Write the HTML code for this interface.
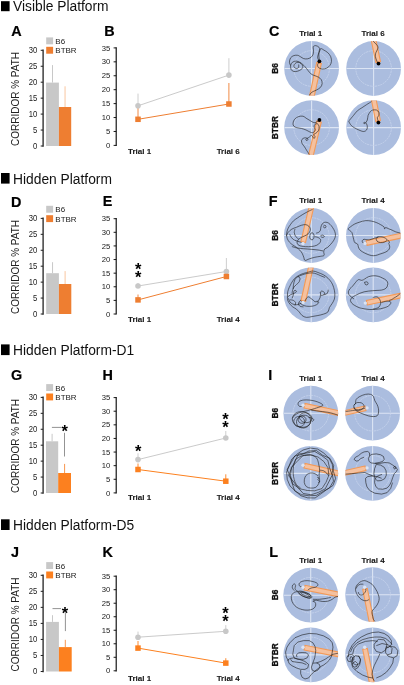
<!DOCTYPE html>
<html><head><meta charset="utf-8"><title>Figure</title>
<style>
html,body{margin:0;padding:0;background:#fff;}
svg{display:block;filter:blur(0.3px);}
svg text{font-family:'Liberation Sans', Arial, Helvetica, sans-serif;}
</style></head>
<body>
<svg width="404" height="685" viewBox="0 0 404 685">
<rect x="1" y="1.2" width="8.6" height="10" fill="#000"/>
<text x="13.0" y="11.2" font-size="13.8" fill="#111">Visible Platform</text>
<rect x="1" y="173" width="8.6" height="10.6" fill="#000"/>
<text x="13.0" y="183.6" font-size="13.8" fill="#111">Hidden Platform</text>
<rect x="1" y="344.4" width="8.6" height="10.7" fill="#000"/>
<text x="13.0" y="355.1" font-size="13.8" fill="#111">Hidden Platform-D1</text>
<rect x="1" y="519.3" width="8.6" height="10.7" fill="#000"/>
<text x="13.0" y="530" font-size="13.8" fill="#111">Hidden Platform-D5</text>
<text x="11.3" y="36.2" font-size="14.4" font-weight="bold" fill="#000" stroke="#000" stroke-width="0.2">A</text>
<text x="104.2" y="35.9" font-size="14.4" font-weight="bold" fill="#000" stroke="#000" stroke-width="0.2">B</text>
<text x="269" y="35.8" font-size="14.4" font-weight="bold" fill="#000" stroke="#000" stroke-width="0.2">C</text>
<text x="11" y="206.5" font-size="14.4" font-weight="bold" fill="#000" stroke="#000" stroke-width="0.2">D</text>
<text x="102.8" y="206.4" font-size="14.4" font-weight="bold" fill="#000" stroke="#000" stroke-width="0.2">E</text>
<text x="268.8" y="206.4" font-size="14.4" font-weight="bold" fill="#000" stroke="#000" stroke-width="0.2">F</text>
<text x="11" y="379.8" font-size="14.4" font-weight="bold" fill="#000" stroke="#000" stroke-width="0.2">G</text>
<text x="102.6" y="380.2" font-size="14.4" font-weight="bold" fill="#000" stroke="#000" stroke-width="0.2">H</text>
<text x="268.2" y="380.4" font-size="14.4" font-weight="bold" fill="#000" stroke="#000" stroke-width="0.2">I</text>
<text x="11" y="557" font-size="14.4" font-weight="bold" fill="#000" stroke="#000" stroke-width="0.2">J</text>
<text x="102.4" y="557.2" font-size="14.4" font-weight="bold" fill="#000" stroke="#000" stroke-width="0.2">K</text>
<text x="269.3" y="557.4" font-size="14.4" font-weight="bold" fill="#000" stroke="#000" stroke-width="0.2">L</text>
<line x1="43.1" y1="49.5" x2="43.1" y2="146.8" stroke="#222" stroke-width="1.3"/>
<line x1="40.7" y1="146" x2="43.1" y2="146" stroke="#222" stroke-width="1"/>
<text transform="translate(37.3,148.9) scale(0.95,1.1)" font-size="8.1" text-anchor="end" fill="#1a1a1a">0</text>
<line x1="40.7" y1="130.05" x2="43.1" y2="130.05" stroke="#222" stroke-width="1"/>
<text transform="translate(37.3,132.95) scale(0.95,1.1)" font-size="8.1" text-anchor="end" fill="#1a1a1a">5</text>
<line x1="40.7" y1="114.1" x2="43.1" y2="114.1" stroke="#222" stroke-width="1"/>
<text transform="translate(37.3,117) scale(0.95,1.1)" font-size="8.1" text-anchor="end" fill="#1a1a1a">10</text>
<line x1="40.7" y1="98.15" x2="43.1" y2="98.15" stroke="#222" stroke-width="1"/>
<text transform="translate(37.3,101.05) scale(0.95,1.1)" font-size="8.1" text-anchor="end" fill="#1a1a1a">15</text>
<line x1="40.7" y1="82.2" x2="43.1" y2="82.2" stroke="#222" stroke-width="1"/>
<text transform="translate(37.3,85.1) scale(0.95,1.1)" font-size="8.1" text-anchor="end" fill="#1a1a1a">20</text>
<line x1="40.7" y1="66.25" x2="43.1" y2="66.25" stroke="#222" stroke-width="1"/>
<text transform="translate(37.3,69.15) scale(0.95,1.1)" font-size="8.1" text-anchor="end" fill="#1a1a1a">25</text>
<line x1="40.7" y1="50.3" x2="43.1" y2="50.3" stroke="#222" stroke-width="1"/>
<text transform="translate(37.3,53.2) scale(0.95,1.1)" font-size="8.1" text-anchor="end" fill="#1a1a1a">30</text>
<rect x="46.1" y="82.6" width="12.8" height="63.4" fill="#c8c8c8"/>
<rect x="58.9" y="107" width="12.3" height="39" fill="#ee7e31"/>
<line x1="52.5" y1="65.1" x2="52.5" y2="82.6" stroke="#c8c8c8" stroke-width="1"/>
<line x1="65.05" y1="86.3" x2="65.05" y2="107" stroke="#f9c6a0" stroke-width="1"/>
<rect x="46.2" y="37.4" width="6.9" height="6.9" fill="#c8c8c8"/>
<rect x="46.2" y="46.8" width="6.9" height="6.9" fill="#ee7e31"/>
<text x="55.3" y="44" font-size="8" fill="#222">B6</text>
<text x="55.3" y="53.3" font-size="8" fill="#222">BTBR</text>
<text transform="translate(19.4,146) rotate(-90)" x="0" y="0" font-size="10.2" fill="#222" textLength="94" lengthAdjust="spacingAndGlyphs">CORRIDOR % PATH</text>
<line x1="43.1" y1="217.6" x2="43.1" y2="314.8" stroke="#222" stroke-width="1.3"/>
<line x1="40.7" y1="314" x2="43.1" y2="314" stroke="#222" stroke-width="1"/>
<text transform="translate(37.3,316.9) scale(0.95,1.1)" font-size="8.1" text-anchor="end" fill="#1a1a1a">0</text>
<line x1="40.7" y1="298.07" x2="43.1" y2="298.07" stroke="#222" stroke-width="1"/>
<text transform="translate(37.3,300.97) scale(0.95,1.1)" font-size="8.1" text-anchor="end" fill="#1a1a1a">5</text>
<line x1="40.7" y1="282.13" x2="43.1" y2="282.13" stroke="#222" stroke-width="1"/>
<text transform="translate(37.3,285.03) scale(0.95,1.1)" font-size="8.1" text-anchor="end" fill="#1a1a1a">10</text>
<line x1="40.7" y1="266.2" x2="43.1" y2="266.2" stroke="#222" stroke-width="1"/>
<text transform="translate(37.3,269.1) scale(0.95,1.1)" font-size="8.1" text-anchor="end" fill="#1a1a1a">15</text>
<line x1="40.7" y1="250.27" x2="43.1" y2="250.27" stroke="#222" stroke-width="1"/>
<text transform="translate(37.3,253.17) scale(0.95,1.1)" font-size="8.1" text-anchor="end" fill="#1a1a1a">20</text>
<line x1="40.7" y1="234.33" x2="43.1" y2="234.33" stroke="#222" stroke-width="1"/>
<text transform="translate(37.3,237.23) scale(0.95,1.1)" font-size="8.1" text-anchor="end" fill="#1a1a1a">25</text>
<line x1="40.7" y1="218.4" x2="43.1" y2="218.4" stroke="#222" stroke-width="1"/>
<text transform="translate(37.3,221.3) scale(0.95,1.1)" font-size="8.1" text-anchor="end" fill="#1a1a1a">30</text>
<rect x="46.2" y="273.2" width="12.7" height="40.8" fill="#c8c8c8"/>
<rect x="58.9" y="284" width="12.4" height="30" fill="#ee7e31"/>
<line x1="52.55" y1="262.2" x2="52.55" y2="273.2" stroke="#c8c8c8" stroke-width="1"/>
<line x1="65.1" y1="271.1" x2="65.1" y2="284" stroke="#f9c6a0" stroke-width="1"/>
<rect x="46.2" y="205.8" width="6.9" height="6.9" fill="#c8c8c8"/>
<rect x="46.2" y="215.2" width="6.9" height="6.9" fill="#ee7e31"/>
<text x="55.3" y="212.4" font-size="8" fill="#222">B6</text>
<text x="55.3" y="221.7" font-size="8" fill="#222">BTBR</text>
<text transform="translate(19.4,314) rotate(-90)" x="0" y="0" font-size="10.2" fill="#222" textLength="94" lengthAdjust="spacingAndGlyphs">CORRIDOR % PATH</text>
<line x1="43.1" y1="396.6" x2="43.1" y2="493.8" stroke="#222" stroke-width="1.3"/>
<line x1="40.7" y1="493" x2="43.1" y2="493" stroke="#222" stroke-width="1"/>
<text transform="translate(37.3,495.9) scale(0.95,1.1)" font-size="8.1" text-anchor="end" fill="#1a1a1a">0</text>
<line x1="40.7" y1="477.07" x2="43.1" y2="477.07" stroke="#222" stroke-width="1"/>
<text transform="translate(37.3,479.97) scale(0.95,1.1)" font-size="8.1" text-anchor="end" fill="#1a1a1a">5</text>
<line x1="40.7" y1="461.13" x2="43.1" y2="461.13" stroke="#222" stroke-width="1"/>
<text transform="translate(37.3,464.03) scale(0.95,1.1)" font-size="8.1" text-anchor="end" fill="#1a1a1a">10</text>
<line x1="40.7" y1="445.2" x2="43.1" y2="445.2" stroke="#222" stroke-width="1"/>
<text transform="translate(37.3,448.1) scale(0.95,1.1)" font-size="8.1" text-anchor="end" fill="#1a1a1a">15</text>
<line x1="40.7" y1="429.27" x2="43.1" y2="429.27" stroke="#222" stroke-width="1"/>
<text transform="translate(37.3,432.17) scale(0.95,1.1)" font-size="8.1" text-anchor="end" fill="#1a1a1a">20</text>
<line x1="40.7" y1="413.33" x2="43.1" y2="413.33" stroke="#222" stroke-width="1"/>
<text transform="translate(37.3,416.23) scale(0.95,1.1)" font-size="8.1" text-anchor="end" fill="#1a1a1a">25</text>
<line x1="40.7" y1="397.4" x2="43.1" y2="397.4" stroke="#222" stroke-width="1"/>
<text transform="translate(37.3,400.3) scale(0.95,1.1)" font-size="8.1" text-anchor="end" fill="#1a1a1a">30</text>
<rect x="46" y="441.3" width="12.2" height="51.7" fill="#c8c8c8"/>
<rect x="58.2" y="473" width="12.8" height="20" fill="#fc801f"/>
<line x1="52.1" y1="433.8" x2="52.1" y2="441.3" stroke="#c8c8c8" stroke-width="1"/>
<line x1="64.6" y1="463.9" x2="64.6" y2="473" stroke="#f8974f" stroke-width="1"/>
<rect x="46.2" y="384.1" width="6.9" height="6.9" fill="#c8c8c8"/>
<rect x="46.2" y="393.5" width="6.9" height="6.9" fill="#fc801f"/>
<text x="55.3" y="390.7" font-size="8" fill="#222">B6</text>
<text x="55.3" y="400" font-size="8" fill="#222">BTBR</text>
<text transform="translate(19.4,493) rotate(-90)" x="0" y="0" font-size="10.2" fill="#222" textLength="94" lengthAdjust="spacingAndGlyphs">CORRIDOR % PATH</text>
<line x1="51.9" y1="427.4" x2="61.3" y2="427.4" stroke="#777" stroke-width="0.8"/>
<text x="64.7" y="437.15" font-size="16.5" font-weight="bold" text-anchor="middle" fill="#000">*</text>
<line x1="64.5" y1="432.8" x2="64.5" y2="456.5" stroke="#777" stroke-width="0.8"/>
<line x1="43.1" y1="574.5" x2="43.1" y2="672.3" stroke="#222" stroke-width="1.3"/>
<line x1="40.7" y1="671.5" x2="43.1" y2="671.5" stroke="#222" stroke-width="1"/>
<text transform="translate(37.3,674.4) scale(0.95,1.1)" font-size="8.1" text-anchor="end" fill="#1a1a1a">0</text>
<line x1="40.7" y1="655.47" x2="43.1" y2="655.47" stroke="#222" stroke-width="1"/>
<text transform="translate(37.3,658.37) scale(0.95,1.1)" font-size="8.1" text-anchor="end" fill="#1a1a1a">5</text>
<line x1="40.7" y1="639.43" x2="43.1" y2="639.43" stroke="#222" stroke-width="1"/>
<text transform="translate(37.3,642.33) scale(0.95,1.1)" font-size="8.1" text-anchor="end" fill="#1a1a1a">10</text>
<line x1="40.7" y1="623.4" x2="43.1" y2="623.4" stroke="#222" stroke-width="1"/>
<text transform="translate(37.3,626.3) scale(0.95,1.1)" font-size="8.1" text-anchor="end" fill="#1a1a1a">15</text>
<line x1="40.7" y1="607.37" x2="43.1" y2="607.37" stroke="#222" stroke-width="1"/>
<text transform="translate(37.3,610.27) scale(0.95,1.1)" font-size="8.1" text-anchor="end" fill="#1a1a1a">20</text>
<line x1="40.7" y1="591.33" x2="43.1" y2="591.33" stroke="#222" stroke-width="1"/>
<text transform="translate(37.3,594.23) scale(0.95,1.1)" font-size="8.1" text-anchor="end" fill="#1a1a1a">25</text>
<line x1="40.7" y1="575.3" x2="43.1" y2="575.3" stroke="#222" stroke-width="1"/>
<text transform="translate(37.3,578.2) scale(0.95,1.1)" font-size="8.1" text-anchor="end" fill="#1a1a1a">30</text>
<rect x="46.1" y="621.9" width="12.8" height="49.6" fill="#c8c8c8"/>
<rect x="58.9" y="647.1" width="12.8" height="24.4" fill="#fc801f"/>
<line x1="52.5" y1="615.2" x2="52.5" y2="621.9" stroke="#c8c8c8" stroke-width="1"/>
<line x1="65.3" y1="639.8" x2="65.3" y2="647.1" stroke="#f8974f" stroke-width="1"/>
<rect x="46.2" y="562.1" width="6.9" height="6.9" fill="#c8c8c8"/>
<rect x="46.2" y="571.5" width="6.9" height="6.9" fill="#fc801f"/>
<text x="55.3" y="568.7" font-size="8" fill="#222">B6</text>
<text x="55.3" y="578" font-size="8" fill="#222">BTBR</text>
<text transform="translate(19.4,671.5) rotate(-90)" x="0" y="0" font-size="10.2" fill="#222" textLength="94" lengthAdjust="spacingAndGlyphs">CORRIDOR % PATH</text>
<line x1="52.5" y1="608.6" x2="61" y2="608.6" stroke="#777" stroke-width="0.8"/>
<text x="64.9" y="618.85" font-size="16.5" font-weight="bold" text-anchor="middle" fill="#000">*</text>
<line x1="65.4" y1="612.7" x2="65.4" y2="631.1" stroke="#777" stroke-width="0.8"/>
<line x1="116.2" y1="47.3" x2="116.2" y2="146" stroke="#000" stroke-width="1.1"/>
<line x1="113.6" y1="145.4" x2="116.2" y2="145.4" stroke="#000" stroke-width="0.9"/>
<text x="110.3" y="148" font-size="7.7" text-anchor="end" fill="#1a1a1a">0</text>
<line x1="113.6" y1="131.47" x2="116.2" y2="131.47" stroke="#000" stroke-width="0.9"/>
<text x="110.3" y="134.07" font-size="7.7" text-anchor="end" fill="#1a1a1a">5</text>
<line x1="113.6" y1="117.54" x2="116.2" y2="117.54" stroke="#000" stroke-width="0.9"/>
<text x="110.3" y="120.14" font-size="7.7" text-anchor="end" fill="#1a1a1a">10</text>
<line x1="113.6" y1="103.61" x2="116.2" y2="103.61" stroke="#000" stroke-width="0.9"/>
<text x="110.3" y="106.21" font-size="7.7" text-anchor="end" fill="#1a1a1a">15</text>
<line x1="113.6" y1="89.69" x2="116.2" y2="89.69" stroke="#000" stroke-width="0.9"/>
<text x="110.3" y="92.29" font-size="7.7" text-anchor="end" fill="#1a1a1a">20</text>
<line x1="113.6" y1="75.76" x2="116.2" y2="75.76" stroke="#000" stroke-width="0.9"/>
<text x="110.3" y="78.36" font-size="7.7" text-anchor="end" fill="#1a1a1a">25</text>
<line x1="113.6" y1="61.83" x2="116.2" y2="61.83" stroke="#000" stroke-width="0.9"/>
<text x="110.3" y="64.43" font-size="7.7" text-anchor="end" fill="#1a1a1a">30</text>
<line x1="113.6" y1="47.9" x2="116.2" y2="47.9" stroke="#000" stroke-width="0.9"/>
<text x="110.3" y="50.5" font-size="7.7" text-anchor="end" fill="#1a1a1a">35</text>
<line x1="138" y1="93.6" x2="138" y2="105.8" stroke="#c8c8c8" stroke-width="0.9"/>
<line x1="228.9" y1="58.2" x2="228.9" y2="75.1" stroke="#c8c8c8" stroke-width="0.9"/>
<line x1="138" y1="107.5" x2="138" y2="119.3" stroke="#ee7e31" stroke-width="0.9"/>
<line x1="228.9" y1="83" x2="228.9" y2="104" stroke="#ee7e31" stroke-width="0.9"/>
<line x1="138" y1="105.8" x2="228.9" y2="75.1" stroke="#c4c4c4" stroke-width="0.9"/>
<line x1="138" y1="119.3" x2="228.9" y2="104" stroke="#ee7e31" stroke-width="1"/>
<circle cx="138" cy="105.8" r="2.8" fill="#c8c8c8"/>
<circle cx="228.9" cy="75.1" r="2.8" fill="#c8c8c8"/>
<rect x="135.25" y="116.55" width="5.5" height="5.5" fill="#ee7e31"/>
<rect x="226.15" y="101.25" width="5.5" height="5.5" fill="#ee7e31"/>
<text transform="translate(139.6,153.6) " font-size="8" font-weight="bold" text-anchor="middle" fill="#1a1a1a" stroke="#1a1a1a" stroke-width="0.12">Trial 1</text>
<text transform="translate(228.2,153.6) " font-size="8" font-weight="bold" text-anchor="middle" fill="#1a1a1a" stroke="#1a1a1a" stroke-width="0.12">Trial 6</text>
<line x1="116.2" y1="218.1" x2="116.2" y2="314.6" stroke="#000" stroke-width="1.1"/>
<line x1="113.6" y1="314" x2="116.2" y2="314" stroke="#000" stroke-width="0.9"/>
<text x="110.3" y="316.6" font-size="7.7" text-anchor="end" fill="#1a1a1a">0</text>
<line x1="113.6" y1="300.39" x2="116.2" y2="300.39" stroke="#000" stroke-width="0.9"/>
<text x="110.3" y="302.99" font-size="7.7" text-anchor="end" fill="#1a1a1a">5</text>
<line x1="113.6" y1="286.77" x2="116.2" y2="286.77" stroke="#000" stroke-width="0.9"/>
<text x="110.3" y="289.37" font-size="7.7" text-anchor="end" fill="#1a1a1a">10</text>
<line x1="113.6" y1="273.16" x2="116.2" y2="273.16" stroke="#000" stroke-width="0.9"/>
<text x="110.3" y="275.76" font-size="7.7" text-anchor="end" fill="#1a1a1a">15</text>
<line x1="113.6" y1="259.54" x2="116.2" y2="259.54" stroke="#000" stroke-width="0.9"/>
<text x="110.3" y="262.14" font-size="7.7" text-anchor="end" fill="#1a1a1a">20</text>
<line x1="113.6" y1="245.93" x2="116.2" y2="245.93" stroke="#000" stroke-width="0.9"/>
<text x="110.3" y="248.53" font-size="7.7" text-anchor="end" fill="#1a1a1a">25</text>
<line x1="113.6" y1="232.31" x2="116.2" y2="232.31" stroke="#000" stroke-width="0.9"/>
<text x="110.3" y="234.91" font-size="7.7" text-anchor="end" fill="#1a1a1a">30</text>
<line x1="113.6" y1="218.7" x2="116.2" y2="218.7" stroke="#000" stroke-width="0.9"/>
<text x="110.3" y="221.3" font-size="7.7" text-anchor="end" fill="#1a1a1a">35</text>
<line x1="138" y1="283" x2="138" y2="286" stroke="#c8c8c8" stroke-width="0.9"/>
<line x1="226.4" y1="258" x2="226.4" y2="271.5" stroke="#c8c8c8" stroke-width="0.9"/>
<line x1="138" y1="294.5" x2="138" y2="299.9" stroke="#ee7e31" stroke-width="0.9"/>
<line x1="226.4" y1="274" x2="226.4" y2="276.5" stroke="#ee7e31" stroke-width="0.9"/>
<line x1="138" y1="286" x2="226.4" y2="271.5" stroke="#c4c4c4" stroke-width="0.9"/>
<line x1="138" y1="299.9" x2="226.4" y2="276.5" stroke="#ee7e31" stroke-width="1"/>
<circle cx="138" cy="286" r="2.8" fill="#c8c8c8"/>
<circle cx="226.4" cy="271.5" r="2.8" fill="#c8c8c8"/>
<rect x="135.25" y="297.15" width="5.5" height="5.5" fill="#ee7e31"/>
<rect x="223.65" y="273.75" width="5.5" height="5.5" fill="#ee7e31"/>
<text transform="translate(139.6,321.9) " font-size="8" font-weight="bold" text-anchor="middle" fill="#1a1a1a" stroke="#1a1a1a" stroke-width="0.12">Trial 1</text>
<text transform="translate(228.2,321.9) " font-size="8" font-weight="bold" text-anchor="middle" fill="#1a1a1a" stroke="#1a1a1a" stroke-width="0.12">Trial 4</text>
<text x="138.3" y="274.75" font-size="16.5" font-weight="bold" text-anchor="middle" fill="#000">*</text>
<text x="138.3" y="283.15" font-size="16.5" font-weight="bold" text-anchor="middle" fill="#000">*</text>
<line x1="116.2" y1="397" x2="116.2" y2="493.5" stroke="#000" stroke-width="1.1"/>
<line x1="113.6" y1="492.9" x2="116.2" y2="492.9" stroke="#000" stroke-width="0.9"/>
<text x="110.3" y="495.5" font-size="7.7" text-anchor="end" fill="#1a1a1a">0</text>
<line x1="113.6" y1="479.29" x2="116.2" y2="479.29" stroke="#000" stroke-width="0.9"/>
<text x="110.3" y="481.89" font-size="7.7" text-anchor="end" fill="#1a1a1a">5</text>
<line x1="113.6" y1="465.67" x2="116.2" y2="465.67" stroke="#000" stroke-width="0.9"/>
<text x="110.3" y="468.27" font-size="7.7" text-anchor="end" fill="#1a1a1a">10</text>
<line x1="113.6" y1="452.06" x2="116.2" y2="452.06" stroke="#000" stroke-width="0.9"/>
<text x="110.3" y="454.66" font-size="7.7" text-anchor="end" fill="#1a1a1a">15</text>
<line x1="113.6" y1="438.44" x2="116.2" y2="438.44" stroke="#000" stroke-width="0.9"/>
<text x="110.3" y="441.04" font-size="7.7" text-anchor="end" fill="#1a1a1a">20</text>
<line x1="113.6" y1="424.83" x2="116.2" y2="424.83" stroke="#000" stroke-width="0.9"/>
<text x="110.3" y="427.43" font-size="7.7" text-anchor="end" fill="#1a1a1a">25</text>
<line x1="113.6" y1="411.21" x2="116.2" y2="411.21" stroke="#000" stroke-width="0.9"/>
<text x="110.3" y="413.81" font-size="7.7" text-anchor="end" fill="#1a1a1a">30</text>
<line x1="113.6" y1="397.6" x2="116.2" y2="397.6" stroke="#000" stroke-width="0.9"/>
<text x="110.3" y="400.2" font-size="7.7" text-anchor="end" fill="#1a1a1a">35</text>
<line x1="138" y1="453.3" x2="138" y2="459.6" stroke="#c8c8c8" stroke-width="0.9"/>
<line x1="225.8" y1="431" x2="225.8" y2="438" stroke="#c8c8c8" stroke-width="0.9"/>
<line x1="138" y1="463.5" x2="138" y2="469.5" stroke="#fc801f" stroke-width="0.9"/>
<line x1="225.8" y1="474.3" x2="225.8" y2="481.2" stroke="#fc801f" stroke-width="0.9"/>
<line x1="138" y1="459.6" x2="225.8" y2="438" stroke="#c4c4c4" stroke-width="0.9"/>
<line x1="138" y1="469.5" x2="225.8" y2="481.2" stroke="#fc801f" stroke-width="1"/>
<circle cx="138" cy="459.6" r="2.8" fill="#c8c8c8"/>
<circle cx="225.8" cy="438" r="2.8" fill="#c8c8c8"/>
<rect x="135.25" y="466.75" width="5.5" height="5.5" fill="#fc801f"/>
<rect x="223.05" y="478.45" width="5.5" height="5.5" fill="#fc801f"/>
<text transform="translate(139.6,500) " font-size="8" font-weight="bold" text-anchor="middle" fill="#1a1a1a" stroke="#1a1a1a" stroke-width="0.12">Trial 1</text>
<text transform="translate(228.2,500) " font-size="8" font-weight="bold" text-anchor="middle" fill="#1a1a1a" stroke="#1a1a1a" stroke-width="0.12">Trial 4</text>
<text x="138.3" y="457.05" font-size="16.5" font-weight="bold" text-anchor="middle" fill="#000">*</text>
<text x="225.4" y="425.05" font-size="16.5" font-weight="bold" text-anchor="middle" fill="#000">*</text>
<text x="225.4" y="433.45" font-size="16.5" font-weight="bold" text-anchor="middle" fill="#000">*</text>
<line x1="116.2" y1="575.6" x2="116.2" y2="671.4" stroke="#000" stroke-width="1.1"/>
<line x1="113.6" y1="670.8" x2="116.2" y2="670.8" stroke="#000" stroke-width="0.9"/>
<text x="110.3" y="673.4" font-size="7.7" text-anchor="end" fill="#1a1a1a">0</text>
<line x1="113.6" y1="657.29" x2="116.2" y2="657.29" stroke="#000" stroke-width="0.9"/>
<text x="110.3" y="659.89" font-size="7.7" text-anchor="end" fill="#1a1a1a">5</text>
<line x1="113.6" y1="643.77" x2="116.2" y2="643.77" stroke="#000" stroke-width="0.9"/>
<text x="110.3" y="646.37" font-size="7.7" text-anchor="end" fill="#1a1a1a">10</text>
<line x1="113.6" y1="630.26" x2="116.2" y2="630.26" stroke="#000" stroke-width="0.9"/>
<text x="110.3" y="632.86" font-size="7.7" text-anchor="end" fill="#1a1a1a">15</text>
<line x1="113.6" y1="616.74" x2="116.2" y2="616.74" stroke="#000" stroke-width="0.9"/>
<text x="110.3" y="619.34" font-size="7.7" text-anchor="end" fill="#1a1a1a">20</text>
<line x1="113.6" y1="603.23" x2="116.2" y2="603.23" stroke="#000" stroke-width="0.9"/>
<text x="110.3" y="605.83" font-size="7.7" text-anchor="end" fill="#1a1a1a">25</text>
<line x1="113.6" y1="589.71" x2="116.2" y2="589.71" stroke="#000" stroke-width="0.9"/>
<text x="110.3" y="592.31" font-size="7.7" text-anchor="end" fill="#1a1a1a">30</text>
<line x1="113.6" y1="576.2" x2="116.2" y2="576.2" stroke="#000" stroke-width="0.9"/>
<text x="110.3" y="578.8" font-size="7.7" text-anchor="end" fill="#1a1a1a">35</text>
<line x1="138" y1="631.6" x2="138" y2="637.2" stroke="#c8c8c8" stroke-width="0.9"/>
<line x1="225.8" y1="625.1" x2="225.8" y2="631.3" stroke="#c8c8c8" stroke-width="0.9"/>
<line x1="138" y1="641" x2="138" y2="648.1" stroke="#fc801f" stroke-width="0.9"/>
<line x1="225.8" y1="658.2" x2="225.8" y2="663.1" stroke="#fc801f" stroke-width="0.9"/>
<line x1="138" y1="637.2" x2="225.8" y2="631.3" stroke="#c4c4c4" stroke-width="0.9"/>
<line x1="138" y1="648.1" x2="225.8" y2="663.1" stroke="#fc801f" stroke-width="1"/>
<circle cx="138" cy="637.2" r="2.8" fill="#c8c8c8"/>
<circle cx="225.8" cy="631.3" r="2.8" fill="#c8c8c8"/>
<rect x="135.25" y="645.35" width="5.5" height="5.5" fill="#fc801f"/>
<rect x="223.05" y="660.35" width="5.5" height="5.5" fill="#fc801f"/>
<text transform="translate(139.6,680.9) " font-size="8" font-weight="bold" text-anchor="middle" fill="#1a1a1a" stroke="#1a1a1a" stroke-width="0.12">Trial 1</text>
<text transform="translate(228.2,680.9) " font-size="8" font-weight="bold" text-anchor="middle" fill="#1a1a1a" stroke="#1a1a1a" stroke-width="0.12">Trial 4</text>
<text x="225.4" y="619.35" font-size="16.5" font-weight="bold" text-anchor="middle" fill="#000">*</text>
<text x="225.4" y="627.25" font-size="16.5" font-weight="bold" text-anchor="middle" fill="#000">*</text>
<defs>
<clipPath id="cpC11"><circle cx="311.6" cy="68.5" r="27.4"/></clipPath>
<clipPath id="cpC12"><circle cx="373.6" cy="68.5" r="27.4"/></clipPath>
<clipPath id="cpC21"><circle cx="311.6" cy="127.6" r="27.4"/></clipPath>
<clipPath id="cpC22"><circle cx="373.6" cy="127.6" r="27.4"/></clipPath>
<clipPath id="cpF11"><circle cx="311.3" cy="235.5" r="27.4"/></clipPath>
<clipPath id="cpF12"><circle cx="373.4" cy="235.5" r="27.4"/></clipPath>
<clipPath id="cpF21"><circle cx="311.2" cy="294.9" r="27.4"/></clipPath>
<clipPath id="cpF22"><circle cx="373.2" cy="294.9" r="27.4"/></clipPath>
<clipPath id="cpI11"><circle cx="310.8" cy="413.2" r="27.4"/></clipPath>
<clipPath id="cpI12"><circle cx="372.6" cy="413.2" r="27.4"/></clipPath>
<clipPath id="cpI21"><circle cx="310.8" cy="473.4" r="27.4"/></clipPath>
<clipPath id="cpI22"><circle cx="372.6" cy="473.4" r="27.4"/></clipPath>
<clipPath id="cpL11"><circle cx="310.7" cy="595.2" r="27.4"/></clipPath>
<clipPath id="cpL12"><circle cx="372.6" cy="594.7" r="27.4"/></clipPath>
<clipPath id="cpL21"><circle cx="310.8" cy="654.9" r="27.4"/></clipPath>
<clipPath id="cpL22"><circle cx="372.6" cy="654.9" r="27.4"/></clipPath>
</defs>
<circle cx="311.6" cy="68.5" r="27.4" fill="#abbddf"/>
<g clip-path="url(#cpC11)">
<line x1="284.2" y1="68.5" x2="339" y2="68.5" stroke="#dce5f4" stroke-width="1.1"/>
<line x1="311.6" y1="41.1" x2="311.6" y2="95.9" stroke="#dce5f4" stroke-width="1.1"/>
<circle cx="311.6" cy="68.5" r="17.8" fill="none" stroke="#c9d6ee" stroke-width="0.8" stroke-dasharray="2 0.7"/>
<polygon points="316.77,62.37 308.44,100.97 313.03,101.96 321.36,63.36" fill="#f5c19f" stroke="#f39a58" stroke-width="1.1"/>
<path d="M309.48,95.25 C309.85,94.75 310.59,93.12 311.7,92.28 C312.82,91.44 314.72,90.99 316.16,90.2 C317.59,89.41 319.33,88.59 320.32,87.52 C321.31,86.46 321.93,85.1 322.1,83.81 C322.27,82.52 321.98,80.92 321.36,79.8 C320.74,78.69 319.62,77.87 318.39,77.13 C317.15,76.39 315.17,75.89 313.93,75.35 C312.69,74.8 311.95,74.68 310.96,73.86 C309.97,73.04 308.98,71.63 307.99,70.45 C307,69.26 305.89,67.72 305.02,66.73 C304.15,65.74 303.66,65.25 302.79,64.5 C301.93,63.76 300.94,62.85 299.82,62.28 C298.71,61.71 297.35,61.09 296.11,61.09 C294.87,61.09 293.31,61.53 292.4,62.28 C291.48,63.02 290.81,64.31 290.61,65.54 C290.42,66.78 290.66,68.71 291.21,69.7 C291.75,70.69 292.82,71.24 293.88,71.49 C294.95,71.73 296.36,71.53 297.59,71.19 C298.83,70.84 300.44,70.15 301.31,69.41 C302.17,68.66 302.84,67.72 302.79,66.73 C302.74,65.74 301.8,64.21 301.01,63.47 C300.22,62.72 299.03,62.28 298.04,62.28 C297.05,62.28 295.76,62.77 295.07,63.47 C294.38,64.16 293.71,65.59 293.88,66.44 C294.05,67.28 295.32,68.34 296.11,68.51 C296.9,68.69 298.21,68.14 298.63,67.48 C299.05,66.81 298.63,65 298.63,64.5" fill="none" stroke="#1a1a1a" stroke-width="0.6" stroke-linejoin="round"/>
<path d="M290.61,65.54 C290.42,65 289.43,63.56 289.43,62.28 C289.43,60.99 289.87,58.94 290.61,57.82 C291.36,56.71 292.72,56.01 293.88,55.59 C295.04,55.17 296.48,55.1 297.59,55.3 C298.71,55.5 299.57,56.24 300.56,56.78 C301.55,57.33 302.42,58.22 303.53,58.56 C304.65,58.91 306.01,59.06 307.25,58.86 C308.49,58.66 309.97,58.17 310.96,57.38 C311.95,56.58 312.77,55.4 313.19,54.11 C313.61,52.82 313.49,50.89 313.49,49.65 C313.49,48.42 312.79,47.35 313.19,46.68 C313.58,46.01 314.87,45.52 315.86,45.64 C316.85,45.77 318.46,46.63 319.13,47.43 C319.8,48.22 320,49.28 319.87,50.4 C319.75,51.51 318.76,52.87 318.39,54.11 C318.01,55.35 317.52,56.58 317.64,57.82 C317.77,59.06 319.13,60.42 319.13,61.53 C319.13,62.65 317.77,63.51 317.64,64.5 C317.52,65.5 317.64,66.73 318.39,67.48 C319.13,68.22 320.74,68.84 322.1,68.96 C323.46,69.08 325.27,68.79 326.55,68.22 C327.84,67.65 329,66.66 329.82,65.54 C330.64,64.43 331.31,63.02 331.46,61.53 C331.6,60.05 331.33,58.12 330.71,56.63 C330.09,55.15 328.88,53.71 327.74,52.62 C326.6,51.53 325.02,50.77 323.88,50.1 C322.74,49.43 321.7,48.44 320.91,48.61 C320.12,48.79 319.48,50.1 319.13,51.14 C318.78,52.18 318.78,53.24 318.83,54.85 C318.88,56.46 319.33,59.8 319.43,60.79" fill="none" stroke="#1a1a1a" stroke-width="0.6" stroke-linejoin="round"/>
</g>
<circle cx="319.4" cy="61.3" r="1.9" fill="#000"/>
<circle cx="373.6" cy="68.5" r="27.4" fill="#abbddf"/>
<g clip-path="url(#cpC12)">
<line x1="346.2" y1="68.5" x2="401" y2="68.5" stroke="#dce5f4" stroke-width="1.1"/>
<line x1="373.6" y1="41.1" x2="373.6" y2="95.9" stroke="#dce5f4" stroke-width="1.1"/>
<circle cx="373.6" cy="68.5" r="17.8" fill="none" stroke="#c9d6ee" stroke-width="0.8" stroke-dasharray="2 0.7"/>
<polygon points="380.47,61.55 374.93,34.95 370.32,35.91 375.87,62.51" fill="#f5c19f" stroke="#f39a58" stroke-width="1.1"/>
<path d="M373.14,41.12 C373.45,41.44 374.31,42.33 375,43.05 C375.68,43.77 376.73,44.68 377.22,45.43 C377.72,46.17 377.97,46.76 377.97,47.5 C377.97,48.25 377.56,49.05 377.22,49.88 C376.89,50.71 376.27,51.61 375.96,52.48 C375.65,53.35 375.4,54.15 375.37,55.08 C375.33,56.01 375.49,57.06 375.74,58.05 C375.99,59.04 376.48,60.15 376.85,61.02 C377.22,61.89 377.78,62.88 377.97,63.25" fill="none" stroke="#1a1a1a" stroke-width="0.6" stroke-linejoin="round"/>
</g>
<circle cx="378.5" cy="63.6" r="1.9" fill="#000"/>
<circle cx="311.6" cy="127.6" r="27.4" fill="#abbddf"/>
<g clip-path="url(#cpC21)">
<line x1="284.2" y1="127.6" x2="339" y2="127.6" stroke="#dce5f4" stroke-width="1.1"/>
<line x1="311.6" y1="100.2" x2="311.6" y2="155" stroke="#dce5f4" stroke-width="1.1"/>
<circle cx="311.6" cy="127.6" r="17.8" fill="none" stroke="#c9d6ee" stroke-width="0.8" stroke-dasharray="2 0.7"/>
<polygon points="316.74,121.01 307.31,160.29 311.88,161.38 321.31,122.1" fill="#f5c19f" stroke="#f39a58" stroke-width="1.1"/>
<path d="M309.47,154.55 C309.03,153.91 307.67,151.99 306.86,150.71 C306.04,149.43 305.32,148.03 304.55,146.88 C303.79,145.73 302.76,144.83 302.25,143.81 C301.74,142.78 301.36,141.63 301.49,140.74 C301.61,139.84 302.3,138.92 303.02,138.44 C303.74,137.95 304.96,137.72 305.78,137.82 C306.6,137.92 307.73,138.59 307.93,139.05 C308.14,139.51 307.37,140.53 307.01,140.58 C306.65,140.64 305.42,139.92 305.78,139.36 C306.14,138.79 308.21,137.87 309.16,137.21 C310.1,136.54 310.82,135.37 311.46,135.37 C312.1,135.37 312.56,136.7 313,137.21 C313.43,137.72 313.74,138.54 314.07,138.44 C314.4,138.33 315.04,137.23 314.99,136.59 C314.94,135.95 313.58,135.19 313.76,134.6 C313.94,134.01 315.3,133.7 316.06,133.06 C316.83,132.42 317.85,131.79 318.37,130.76 C318.88,129.74 319.26,128.08 319.13,126.93 C319.01,125.77 318.29,124.29 317.6,123.86 C316.91,123.42 315.58,123.81 314.99,124.32 C314.4,124.83 314.02,125.98 314.07,126.93 C314.12,127.87 315.48,129.05 315.3,130 C315.12,130.94 313.89,132.27 313,132.6 C312.1,132.94 311.08,132.42 309.93,131.99 C308.77,131.56 307.5,130.58 306.09,130 C304.68,129.41 303.02,128.84 301.49,128.46 C299.95,128.08 298.16,128.08 296.88,127.69 C295.6,127.31 294.45,126.93 293.81,126.16 C293.17,125.39 292.92,124.24 293.04,123.09 C293.17,121.94 293.68,120.33 294.58,119.25 C295.47,118.18 297.01,117.16 298.42,116.64 C299.82,116.13 301.74,115.93 303.02,116.18 C304.3,116.44 305.07,117.54 306.09,118.18 C307.11,118.82 308.14,119.41 309.16,120.02 C310.18,120.63 311.26,121.4 312.23,121.86 C313.2,122.32 314.09,122.88 314.99,122.78 C315.89,122.68 316.86,121.71 317.6,121.25 C318.34,120.79 319.13,120.22 319.44,120.02" fill="none" stroke="#1a1a1a" stroke-width="0.6" stroke-linejoin="round"/>
</g>
<circle cx="319.4" cy="120" r="1.9" fill="#000"/>
<circle cx="373.6" cy="127.6" r="27.4" fill="#abbddf"/>
<g clip-path="url(#cpC22)">
<line x1="346.2" y1="127.6" x2="401" y2="127.6" stroke="#dce5f4" stroke-width="1.1"/>
<line x1="373.6" y1="100.2" x2="373.6" y2="155" stroke="#dce5f4" stroke-width="1.1"/>
<circle cx="373.6" cy="127.6" r="17.8" fill="none" stroke="#c9d6ee" stroke-width="0.8" stroke-dasharray="2 0.7"/>
<polygon points="380.39,120.57 375.02,93.95 370.41,94.88 375.78,121.5" fill="#f5c19f" stroke="#f39a58" stroke-width="1.1"/>
<path d="M371.47,101.6 C370.65,102.12 368.14,103.65 366.55,104.67 C364.97,105.7 363.49,106.72 361.95,107.74 C360.42,108.77 358.75,109.53 357.35,110.81 C355.94,112.09 354.79,113.88 353.51,115.42 C352.23,116.95 350.44,119 349.67,120.02 C348.91,121.04 348.65,120.66 348.91,121.55 C349.16,122.45 350.31,124.37 351.21,125.39 C352.1,126.41 353,126.93 354.28,127.69 C355.56,128.46 357.35,129.36 358.88,130 C360.42,130.63 362.21,131.53 363.49,131.53 C364.76,131.53 365.92,130.76 366.55,130 C367.19,129.23 367.32,127.95 367.32,126.93 C367.32,125.9 366.99,124.62 366.55,123.86 C366.12,123.09 365.22,122.45 364.71,122.32 C364.2,122.19 363.43,122.91 363.49,123.09 C363.54,123.27 364.38,123.91 365.02,123.4 C365.66,122.88 366.81,121.35 367.32,120.02 C367.83,118.69 367.58,116.82 368.09,115.42 C368.6,114.01 369.62,112.47 370.39,111.58 C371.16,110.68 371.67,110.3 372.69,110.04 C373.72,109.79 375.51,109.66 376.53,110.04 C377.55,110.43 378.45,111.45 378.83,112.35 C379.22,113.24 379.09,114.52 378.83,115.42 C378.58,116.31 377.42,116.82 377.3,117.72 C377.17,118.61 377.89,119.97 378.06,120.79 C378.24,121.61 378.32,122.32 378.37,122.63" fill="none" stroke="#1a1a1a" stroke-width="0.6" stroke-linejoin="round"/>
</g>
<circle cx="378.4" cy="122.6" r="1.9" fill="#000"/>
<circle cx="311.3" cy="235.5" r="27.4" fill="#abbddf"/>
<g clip-path="url(#cpF11)">
<line x1="283.9" y1="235.5" x2="338.7" y2="235.5" stroke="#dce5f4" stroke-width="1.1"/>
<line x1="311.3" y1="208.1" x2="311.3" y2="262.9" stroke="#dce5f4" stroke-width="1.1"/>
<circle cx="311.3" cy="235.5" r="17.8" fill="none" stroke="#c9d6ee" stroke-width="0.8" stroke-dasharray="2 0.7"/>
<polygon points="305.55,242.47 314.65,203.29 310.07,202.22 300.97,241.41" fill="#f5c19f" stroke="#f39a58" stroke-width="1.1"/>
<path d="M312.48,209.44 C311.68,209.81 309.44,210.76 307.72,211.65 C306.01,212.55 303.89,213.77 302.18,214.82 C300.46,215.88 298.88,216.99 297.43,217.99 C295.97,218.99 294.65,219.71 293.47,220.84 C292.28,221.98 291.22,223.48 290.3,224.8 C289.37,226.12 288.53,227.31 287.92,228.76 C287.31,230.21 286.79,231.93 286.65,233.51 C286.52,235.1 286.65,236.82 287.13,238.27 C287.6,239.72 288.58,241.12 289.5,242.23 C290.43,243.34 291.49,244.05 292.67,244.92 C293.86,245.79 295.45,246.58 296.63,247.46 C297.82,248.33 298.88,249.17 299.8,250.15 C300.73,251.13 301.52,252.13 302.18,253.32 C302.84,254.5 303.29,256.09 303.76,257.28 C304.24,258.47 304.11,260.18 305.03,260.45 C305.95,260.71 307.67,259.39 309.31,258.86 C310.94,258.33 313,257.7 314.85,257.28 C316.7,256.85 318.86,256.64 320.4,256.33 C321.93,256.01 323.49,256.12 324.04,255.38 C324.59,254.64 323.62,252.95 323.72,251.89 C323.83,250.83 324.04,249.78 324.67,249.04 C325.31,248.3 326.52,248.25 327.52,247.46 C328.53,246.66 329.64,245.5 330.69,244.29 C331.75,243.07 333.07,241.57 333.86,240.17 C334.65,238.77 335.29,237.32 335.45,235.89 C335.6,234.47 335.29,233.01 334.81,231.61 C334.34,230.21 333.39,228.71 332.59,227.5 C331.8,226.28 330.96,225.17 330.06,224.33 C329.16,223.48 328.16,222.74 327.21,222.43 C326.26,222.11 325.2,222.16 324.36,222.43 C323.51,222.69 322.72,223.22 322.14,224.01 C321.56,224.8 321.16,226.12 320.87,227.18 C320.58,228.23 320.74,229.5 320.4,230.35 C320.05,231.19 319.52,231.77 318.81,232.25 C318.1,232.72 316.57,233.04 316.12,233.2" fill="none" stroke="#1a1a1a" stroke-width="0.6" stroke-linejoin="round"/>
<path d="M323.56,225.28 C323.91,225.33 325.23,225.28 325.62,225.59 C326.02,225.91 326.15,226.78 325.94,227.18 C325.73,227.57 324.78,228.1 324.36,227.97 C323.93,227.84 323.56,226.65 323.41,226.39" fill="none" stroke="#1a1a1a" stroke-width="0.6" stroke-linejoin="round"/>
<path d="M310.89,233.2 C311.21,233.15 312.26,232.51 312.79,232.88 C313.32,233.25 313.9,234.52 314.06,235.42 C314.22,236.31 314.06,237.53 313.74,238.27 C313.43,239.01 312.77,239.77 312.16,239.85 C311.55,239.93 310.5,239.4 310.1,238.74 C309.7,238.08 309.65,236.82 309.78,235.89 C309.91,234.97 310.71,233.65 310.89,233.2" fill="none" stroke="#1a1a1a" stroke-width="0.6" stroke-linejoin="round"/>
<path d="M320.4,235.89 C320.74,235.76 321.8,235.02 322.46,235.1 C323.12,235.18 324.3,235.97 324.36,236.37 C324.41,236.76 323.35,237.42 322.77,237.48 C322.19,237.53 321.19,236.82 320.87,236.68" fill="none" stroke="#1a1a1a" stroke-width="0.6" stroke-linejoin="round"/>
<path d="M286.34,235.89 C286.65,235.28 287.31,233.38 288.24,232.25 C289.16,231.11 290.48,229.92 291.88,229.08 C293.28,228.23 295.05,227.81 296.63,227.18 C298.22,226.54 299.88,225.7 301.39,225.28 C302.89,224.85 304.42,224.49 305.66,224.64 C306.9,224.8 308.04,225.49 308.83,226.23 C309.62,226.97 310.31,228.08 310.42,229.08 C310.52,230.08 310.15,231.24 309.47,232.25 C308.78,233.25 307.51,234.31 306.3,235.1 C305.08,235.89 303.45,236.31 302.18,237 C300.91,237.69 299.54,238.32 298.69,239.22 C297.85,240.12 297.06,241.36 297.11,242.39 C297.16,243.42 297.64,244.68 299.01,245.4 C300.38,246.11 303.23,246.48 305.35,246.66 C307.46,246.85 309.78,246.74 311.68,246.5 C313.58,246.27 315.38,245.87 316.75,245.24 C318.13,244.6 319.29,243.65 319.92,242.7 C320.55,241.75 320.87,240.41 320.55,239.53 C320.24,238.66 318.97,237.95 318.02,237.48 C317.07,237 315.38,236.82 314.85,236.68" fill="none" stroke="#1a1a1a" stroke-width="0.6" stroke-linejoin="round"/>
<path d="M291.88,246.5 C292.81,246.77 295.45,247.72 297.43,248.09 C299.41,248.46 301.39,248.51 303.76,248.72 C306.14,248.93 309.31,249.15 311.68,249.36 C314.06,249.57 316.12,249.73 318.02,249.99 C319.92,250.25 322.24,250.78 323.09,250.94" fill="none" stroke="#1a1a1a" stroke-width="0.6" stroke-linejoin="round"/>
<path d="M289.5,233.83 C289.82,234.44 290.56,236.42 291.41,237.48 C292.25,238.53 293.1,239.4 294.57,240.17 C296.05,240.93 298.75,241.54 300.28,242.07 C301.81,242.6 303.18,243.13 303.76,243.34" fill="none" stroke="#1a1a1a" stroke-width="0.6" stroke-linejoin="round"/>
<path d="M295.05,228.76 C294.92,229.42 294.13,231.4 294.26,232.72 C294.39,234.04 295.1,235.63 295.84,236.68 C296.58,237.74 298.22,238.66 298.69,239.06" fill="none" stroke="#1a1a1a" stroke-width="0.6" stroke-linejoin="round"/>
</g>
<circle cx="302.9" cy="243.5" r="1.7" fill="#dbe4f4"/>
<circle cx="373.4" cy="235.5" r="27.4" fill="#abbddf"/>
<g clip-path="url(#cpF12)">
<line x1="346" y1="235.5" x2="400.8" y2="235.5" stroke="#dce5f4" stroke-width="1.1"/>
<line x1="373.4" y1="208.1" x2="373.4" y2="262.9" stroke="#dce5f4" stroke-width="1.1"/>
<circle cx="373.4" cy="235.5" r="17.8" fill="none" stroke="#c9d6ee" stroke-width="0.8" stroke-dasharray="2 0.7"/>
<polygon points="367.06,245.36 405.86,237.04 404.87,232.44 366.07,240.77" fill="#f5c19f" stroke="#f39a58" stroke-width="1.1"/>
<path d="M400.28,232.99 C399.51,232.8 397.05,232.32 395.68,231.84 C394.32,231.36 393.29,230.65 392.09,230.12 C390.9,229.59 389.58,229.11 388.5,228.68 C387.43,228.25 386.28,227.49 385.63,227.53 C384.99,227.58 384.92,229.09 384.63,228.97 C384.34,228.85 384.58,227.53 383.91,226.82 C383.24,226.1 381.88,225.38 380.61,224.66 C379.34,223.95 377.86,223.11 376.3,222.51 C374.75,221.91 373.07,221.39 371.28,221.07 C369.48,220.76 367.45,220.48 365.53,220.64 C363.62,220.81 361.59,221.53 359.79,222.08 C358,222.63 356.32,223.16 354.77,223.95 C353.21,224.74 351.58,225.98 350.46,226.82 C349.34,227.65 348.14,228.37 348.02,228.97 C347.9,229.57 349.1,229.81 349.74,230.41 C350.39,231 351.37,231.6 351.9,232.56 C352.42,233.52 352.59,234.95 352.9,236.15 C353.21,237.34 353.45,238.66 353.76,239.74 C354.07,240.81 354.12,241.89 354.77,242.61 C355.41,243.33 357.04,243.33 357.64,244.04 C358.24,244.76 358,245.96 358.36,246.92 C358.72,247.87 359.07,248.95 359.79,249.79 C360.51,250.62 361.47,251.22 362.66,251.94 C363.86,252.66 365.53,253.5 366.97,254.09 C368.41,254.69 369.84,255.29 371.28,255.53 C372.71,255.77 374.15,255.77 375.58,255.53 C377.02,255.29 378.46,254.57 379.89,254.09 C381.33,253.62 383,253.14 384.2,252.66 C385.39,252.18 386.23,251.82 387.07,251.22 C387.91,250.62 388.79,249.91 389.22,249.07 C389.65,248.23 389.73,247.11 389.65,246.2 C389.58,245.29 388.79,244.33 388.79,243.61 C388.79,242.9 389.82,242.42 389.65,241.89 C389.49,241.36 388.46,241.05 387.79,240.46 C387.12,239.86 386.59,238.9 385.63,238.3 C384.68,237.7 383.24,237.11 382.04,236.87 C380.85,236.63 379.41,236.63 378.46,236.87 C377.5,237.11 376.54,237.58 376.3,238.3 C376.06,239.02 376.3,240.46 377.02,241.17 C377.74,241.89 379.41,242.44 380.61,242.61 C381.81,242.78 383.12,242.54 384.2,242.18 C385.27,241.82 386.59,240.74 387.07,240.46" fill="none" stroke="#1a1a1a" stroke-width="0.6" stroke-linejoin="round"/>
<path d="M378.46,236.87 C377.74,237.11 375.58,237.82 374.15,238.3 C372.71,238.78 371.04,239.5 369.84,239.74 C368.65,239.98 367.93,239.81 366.97,239.74 C366.01,239.67 364.86,239.19 364.1,239.31 C363.33,239.43 362.62,239.91 362.38,240.46 C362.14,241.01 362.26,242.08 362.66,242.61 C363.07,243.14 364.46,243.45 364.82,243.61" fill="none" stroke="#1a1a1a" stroke-width="0.6" stroke-linejoin="round"/>
</g>
<circle cx="365" cy="243.4" r="1.7" fill="#dbe4f4"/>
<circle cx="311.2" cy="294.9" r="27.4" fill="#abbddf"/>
<g clip-path="url(#cpF21)">
<line x1="283.8" y1="294.9" x2="338.6" y2="294.9" stroke="#dce5f4" stroke-width="1.1"/>
<line x1="311.2" y1="267.5" x2="311.2" y2="322.3" stroke="#dce5f4" stroke-width="1.1"/>
<circle cx="311.2" cy="294.9" r="17.8" fill="none" stroke="#c9d6ee" stroke-width="0.8" stroke-dasharray="2 0.7"/>
<polygon points="305.64,301.35 314.3,262.66 309.72,261.63 301.06,300.33" fill="#f5c19f" stroke="#f39a58" stroke-width="1.1"/>
<path d="M307.12,272.46 C308.08,272.22 311.07,271.02 312.87,271.02 C314.66,271.02 316.1,271.81 317.89,272.46 C319.69,273.11 321.96,273.94 323.63,274.9 C325.31,275.86 326.62,276.93 327.94,278.2 C329.26,279.47 330.57,280.95 331.53,282.51 C332.49,284.07 333.13,285.74 333.68,287.53 C334.23,289.33 334.71,291.36 334.83,293.28 C334.95,295.19 334.83,297.34 334.4,299.02 C333.97,300.69 333.08,301.89 332.25,303.33 C331.41,304.76 330.09,306.2 329.38,307.63 C328.66,309.07 328.9,310.86 327.94,311.94 C326.98,313.02 325.31,313.5 323.63,314.09 C321.96,314.69 319.81,315.12 317.89,315.53 C315.98,315.94 314.06,316.22 312.15,316.53 C310.23,316.85 308.08,317.56 306.41,317.4 C304.73,317.23 303.3,316.44 302.1,315.53 C300.9,314.62 300.18,313.02 299.23,311.94 C298.27,310.86 297.43,309.91 296.36,309.07 C295.28,308.23 293.84,307.75 292.77,306.92 C291.69,306.08 290.73,305.12 289.9,304.04 C289.06,302.97 288.15,301.77 287.74,300.46 C287.34,299.14 287.46,297.58 287.46,296.15 C287.46,294.71 287.46,293.28 287.74,291.84 C288.03,290.41 288.58,288.97 289.18,287.53 C289.78,286.1 290.49,284.66 291.33,283.23 C292.17,281.79 293.13,280.12 294.2,278.92 C295.28,277.72 296.48,276.89 297.79,276.05 C299.11,275.21 300.54,274.49 302.1,273.9 C303.65,273.3 306.29,272.7 307.12,272.46" fill="none" stroke="#1a1a1a" stroke-width="0.6" stroke-linejoin="round"/>
<path d="M292.05,293.28 C292.17,292.68 292.41,290.76 292.77,289.69 C293.13,288.61 293.6,287.65 294.2,286.82 C294.8,285.98 295.52,285.5 296.36,284.66 C297.19,283.83 298.63,282.87 299.23,281.79 C299.83,280.72 300.18,279.04 299.95,278.2 C299.71,277.37 298.63,276.53 297.79,276.77 C296.95,277.01 295.64,278.32 294.92,279.64 C294.2,280.95 293.77,283.11 293.49,284.66 C293.2,286.22 293.25,288.25 293.2,288.97" fill="none" stroke="#1a1a1a" stroke-width="0.6" stroke-linejoin="round"/>
<path d="M297.79,276.77 C298.51,276.46 300.54,275.45 302.1,274.9 C303.65,274.35 305.45,273.8 307.12,273.47 C308.8,273.13 310.59,272.82 312.15,272.89 C313.7,272.96 315.02,273.42 316.46,273.9 C317.89,274.37 319.33,275.16 320.76,275.76 C322.2,276.36 324.35,277.2 325.07,277.49" fill="none" stroke="#1a1a1a" stroke-width="0.6" stroke-linejoin="round"/>
<path d="M287.74,296.87 C288.22,296.51 289.54,295.31 290.61,294.71 C291.69,294.11 293.25,293.76 294.2,293.28 C295.16,292.8 296.12,292.32 296.36,291.84 C296.6,291.36 296,290.6 295.64,290.41 C295.28,290.21 294.56,290.33 294.2,290.69 C293.84,291.05 293.65,291.77 293.49,292.56 C293.32,293.35 293.44,294.47 293.2,295.43 C292.96,296.39 292.24,297.82 292.05,298.3" fill="none" stroke="#1a1a1a" stroke-width="0.6" stroke-linejoin="round"/>
<path d="M288.46,298.3 C288.7,298.9 289.18,300.93 289.9,301.89 C290.61,302.85 291.69,303.57 292.77,304.04 C293.84,304.52 295.28,304.76 296.36,304.76 C297.43,304.76 298.27,304.4 299.23,304.04 C300.18,303.69 301.86,303.21 302.1,302.61 C302.34,302.01 301.14,300.58 300.66,300.46 C300.18,300.34 299.59,301.29 299.23,301.89 C298.87,302.49 298.39,303.33 298.51,304.04 C298.63,304.76 299.11,305.72 299.95,306.2 C300.78,306.68 302.94,306.8 303.53,306.92" fill="none" stroke="#1a1a1a" stroke-width="0.6" stroke-linejoin="round"/>
<path d="M299.95,302.61 C300.3,302.97 301.02,304.16 302.1,304.76 C303.18,305.36 304.73,305.96 306.41,306.2 C308.08,306.44 310.47,306.44 312.15,306.2 C313.82,305.96 315.38,305.36 316.46,304.76 C317.53,304.16 318.49,303.21 318.61,302.61 C318.73,302.01 317.77,301.29 317.17,301.17 C316.58,301.05 315.62,302.01 315.02,301.89 C314.42,301.77 314.3,301.05 313.58,300.46 C312.87,299.86 311.55,298.9 310.71,298.3 C309.88,297.7 309.28,296.87 308.56,296.87 C307.84,296.87 307,297.58 306.41,298.3 C305.81,299.02 305.21,300.69 304.97,301.17" fill="none" stroke="#1a1a1a" stroke-width="0.6" stroke-linejoin="round"/>
<path d="M320.04,292.56 C320.28,292.32 320.88,291.24 321.48,291.12 C322.08,291 323.08,291.48 323.63,291.84 C324.18,292.2 324.78,292.8 324.78,293.28 C324.78,293.76 324.18,294.35 323.63,294.71 C323.08,295.07 322.01,295.55 321.48,295.43 C320.95,295.31 320.59,294.55 320.48,294 C320.36,293.44 320.71,292.44 320.76,292.13" fill="none" stroke="#1a1a1a" stroke-width="0.6" stroke-linejoin="round"/>
<path d="M323.63,294.71 C324.11,294.59 325.79,294.47 326.5,294 C327.22,293.52 327.65,292.56 327.94,291.84 C328.23,291.12 328.18,290.05 328.23,289.69" fill="none" stroke="#1a1a1a" stroke-width="0.6" stroke-linejoin="round"/>
<path d="M320.48,294.71 C320.4,295.19 320.36,296.63 320.04,297.58 C319.73,298.54 319.09,299.62 318.61,300.46 C318.13,301.29 317.41,302.25 317.17,302.61" fill="none" stroke="#1a1a1a" stroke-width="0.6" stroke-linejoin="round"/>
<path d="M289.9,299.74 C290.49,299.86 292.53,299.98 293.49,300.46 C294.44,300.93 295.4,301.77 295.64,302.61 C295.88,303.45 295.04,305 294.92,305.48" fill="none" stroke="#1a1a1a" stroke-width="0.6" stroke-linejoin="round"/>
</g>
<circle cx="303" cy="302.4" r="1.7" fill="#dbe4f4"/>
<circle cx="373.2" cy="294.9" r="27.4" fill="#abbddf"/>
<g clip-path="url(#cpF22)">
<line x1="345.8" y1="294.9" x2="400.6" y2="294.9" stroke="#dce5f4" stroke-width="1.1"/>
<line x1="373.2" y1="267.5" x2="373.2" y2="322.3" stroke="#dce5f4" stroke-width="1.1"/>
<circle cx="373.2" cy="294.9" r="17.8" fill="none" stroke="#c9d6ee" stroke-width="0.8" stroke-dasharray="2 0.7"/>
<polygon points="367.35,305.06 406.36,296.75 405.38,292.15 366.37,300.47" fill="#f5c19f" stroke="#f39a58" stroke-width="1.1"/>
<path d="M400.28,293.56 C399.75,294 398.24,295.36 397.12,296.15 C395.99,296.94 394.49,297.7 393.53,298.3 C392.57,298.9 392.09,299.38 391.38,299.74 C390.66,300.1 389.58,300.34 389.22,300.46" fill="none" stroke="#1a1a1a" stroke-width="0.6" stroke-linejoin="round"/>
<path d="M349.74,288.97 C350.22,288.49 351.66,287.18 352.61,286.1 C353.57,285.02 354.53,283.59 355.49,282.51 C356.44,281.43 357.28,280 358.36,279.64 C359.43,279.28 360.87,280.48 361.95,280.36 C363.02,280.24 363.74,279.52 364.82,278.92 C365.89,278.32 366.97,277.29 368.41,276.77 C369.84,276.24 371.76,275.83 373.43,275.76 C375.11,275.69 376.9,275.93 378.46,276.34 C380.01,276.74 381.45,277.53 382.76,278.2 C384.08,278.87 385.51,279.52 386.35,280.36 C387.19,281.19 387.67,282.15 387.79,283.23 C387.91,284.3 387.55,285.86 387.07,286.82 C386.59,287.77 385.87,288.42 384.92,288.97 C383.96,289.52 382.64,289.88 381.33,290.12 C380.01,290.36 378.46,290.31 377.02,290.41 C375.58,290.5 374.15,290.57 372.71,290.69 C371.28,290.81 369.84,290.93 368.41,291.12 C366.97,291.32 365.53,291.48 364.1,291.84 C362.66,292.2 361.23,292.68 359.79,293.28 C358.36,293.88 356.8,294.71 355.49,295.43 C354.17,296.15 352.73,296.75 351.9,297.58 C351.06,298.42 350.46,299.5 350.46,300.46 C350.46,301.41 351.18,302.49 351.9,303.33 C352.61,304.16 353.57,304.76 354.77,305.48 C355.96,306.2 357.52,307.08 359.07,307.63 C360.63,308.18 362.3,308.47 364.1,308.78 C365.89,309.09 367.93,309.4 369.84,309.5 C371.76,309.6 373.79,309.48 375.58,309.36 C377.38,309.24 379.05,309.07 380.61,308.78 C382.16,308.5 383.6,308.11 384.92,307.63 C386.23,307.16 387.55,306.58 388.5,305.91 C389.46,305.24 390.37,304.33 390.66,303.61 C390.95,302.9 390.83,302.01 390.23,301.6 C389.63,301.2 388.19,301.13 387.07,301.17 C385.94,301.22 384.44,301.65 383.48,301.89 C382.52,302.13 381.69,302.49 381.33,302.61" fill="none" stroke="#1a1a1a" stroke-width="0.6" stroke-linejoin="round"/>
<path d="M364.1,282.51 C364.58,282.39 366.3,281.62 366.97,281.79 C367.64,281.96 368.12,282.99 368.12,283.51 C368.12,284.04 367.45,284.81 366.97,284.95 C366.49,285.09 365.61,284.78 365.25,284.38 C364.89,283.97 364.89,282.82 364.82,282.51" fill="none" stroke="#1a1a1a" stroke-width="0.6" stroke-linejoin="round"/>
<path d="M349.74,288.97 C349.5,289.45 348.43,290.88 348.31,291.84 C348.19,292.8 348.55,293.88 349.02,294.71 C349.5,295.55 350.34,296.15 351.18,296.87 C352.02,297.58 353.57,298.66 354.05,299.02" fill="none" stroke="#1a1a1a" stroke-width="0.6" stroke-linejoin="round"/>
<path d="M372.71,297.58 C373.43,297.46 375.82,296.51 377.02,296.87 C378.22,297.23 379.29,298.66 379.89,299.74 C380.49,300.81 380.73,302.13 380.61,303.33 C380.49,304.52 379.89,306.08 379.17,306.92 C378.46,307.75 377.38,307.99 376.3,308.35 C375.23,308.71 373.31,308.95 372.71,309.07" fill="none" stroke="#1a1a1a" stroke-width="0.6" stroke-linejoin="round"/>
</g>
<circle cx="365.3" cy="303.1" r="1.7" fill="#dbe4f4"/>
<circle cx="310.8" cy="413.2" r="27.4" fill="#abbddf"/>
<g clip-path="url(#cpI11)">
<line x1="283.4" y1="413.2" x2="338.2" y2="413.2" stroke="#dce5f4" stroke-width="1.1"/>
<line x1="310.8" y1="385.8" x2="310.8" y2="440.6" stroke="#dce5f4" stroke-width="1.1"/>
<circle cx="310.8" cy="413.2" r="17.8" fill="none" stroke="#c9d6ee" stroke-width="0.8" stroke-dasharray="2 0.7"/>
<polygon points="304.06,407.94 343.35,416.58 344.36,411.99 305.07,403.35" fill="#f5c19f" stroke="#f39a58" stroke-width="1.1"/>
<path d="M303.53,405.82 C302.94,405.94 300.85,406.77 299.95,406.53 C299.04,406.3 298.2,405.22 298.08,404.38 C297.96,403.54 298.32,402.23 299.23,401.51 C300.14,400.79 301.86,400.31 303.53,400.07 C305.21,399.83 307.36,399.91 309.28,400.07 C311.19,400.24 313.23,400.6 315.02,401.08 C316.81,401.56 318.73,402.28 320.04,402.95 C321.36,403.62 322.8,404.5 322.92,405.1 C323.04,405.7 321.84,406.06 320.76,406.53 C319.69,407.01 317.77,407.54 316.46,407.97 C315.14,408.4 313.82,408.83 312.87,409.12 C311.91,409.41 311.55,409.45 310.71,409.69 C309.88,409.93 308.32,410.41 307.84,410.55" fill="none" stroke="#1a1a1a" stroke-width="0.6" stroke-linejoin="round"/>
<path d="M310.71,410.12 C311.67,410.24 314.54,410.6 316.46,410.84 C318.37,411.08 320.28,411.32 322.2,411.56 C324.11,411.8 326.03,411.92 327.94,412.28 C329.85,412.64 332.01,413.23 333.68,413.71 C335.36,414.19 337.27,414.91 337.99,415.15" fill="none" stroke="#1a1a1a" stroke-width="0.6" stroke-linejoin="round"/>
<path d="M311.19,420.77 C310.93,421.35 310.44,423.28 309.61,424.26 C308.78,425.23 307.53,426.12 306.24,426.64 C304.94,427.16 303.32,427.43 301.85,427.38 C300.39,427.32 298.76,426.92 297.46,426.3 C296.16,425.68 294.9,424.7 294.06,423.65 C293.22,422.61 292.62,421.27 292.44,420.05 C292.26,418.82 292.45,417.43 292.96,416.3 C293.48,415.18 294.43,414.05 295.52,413.28 C296.61,412.51 298.09,411.92 299.51,411.68 C300.93,411.44 302.61,411.5 304.03,411.85 C305.46,412.2 306.95,412.91 308.05,413.77 C309.15,414.63 310.11,415.82 310.63,416.99 C311.16,418.16 311.1,420.14 311.19,420.77" fill="none" stroke="#1a1a1a" stroke-width="0.6" stroke-linejoin="round"/>
<path d="M310.09,423.56 C309.67,424.06 308.64,425.82 307.59,426.56 C306.54,427.29 305.08,427.85 303.81,427.99 C302.53,428.13 301.04,427.9 299.94,427.39 C298.84,426.89 297.78,425.95 297.21,424.96 C296.64,423.97 296.36,422.62 296.49,421.47 C296.62,420.31 297.21,418.98 298.01,418.02 C298.81,417.06 300.07,416.17 301.28,415.71 C302.49,415.25 304.03,415.08 305.27,415.27 C306.51,415.46 307.83,416.07 308.71,416.85 C309.58,417.63 310.27,418.82 310.5,419.94 C310.73,421.05 310.15,422.95 310.09,423.56" fill="none" stroke="#1a1a1a" stroke-width="0.6" stroke-linejoin="round"/>
<path d="M299.35,426.8 C298.81,426.63 297.01,426.39 296.13,425.79 C295.26,425.19 294.45,424.16 294.1,423.19 C293.74,422.22 293.71,420.95 294.02,419.98 C294.33,419.02 295.09,417.99 295.94,417.4 C296.78,416.8 298.04,416.42 299.11,416.42 C300.17,416.43 301.45,416.83 302.32,417.43 C303.2,418.03 304.01,419.06 304.36,420.03 C304.71,421 304.74,422.27 304.43,423.24 C304.13,424.2 303.37,425.23 302.52,425.82 C301.67,426.41 299.88,426.63 299.35,426.8" fill="none" stroke="#1a1a1a" stroke-width="0.6" stroke-linejoin="round"/>
<path d="M302.19,421.53 C301.8,421.1 300.23,419.87 299.81,418.93 C299.39,417.99 299.33,416.78 299.67,415.88 C300,414.98 300.86,414.05 301.83,413.53 C302.79,413.02 304.23,412.73 305.46,412.79 C306.69,412.86 308.16,413.31 309.18,413.94 C310.2,414.56 311.15,415.59 311.57,416.53 C311.99,417.47 312.05,418.69 311.71,419.59 C311.37,420.49 310.52,421.42 309.55,421.93 C308.58,422.45 307.14,422.74 305.92,422.67 C304.69,422.61 302.81,421.72 302.19,421.53" fill="none" stroke="#1a1a1a" stroke-width="0.6" stroke-linejoin="round"/>
<path d="M305.94,420.8 C305.66,421.13 305,422.34 304.28,422.76 C303.55,423.18 302.45,423.4 301.6,423.3 C300.74,423.21 299.74,422.75 299.15,422.18 C298.56,421.62 298.13,420.69 298.08,419.92 C298.04,419.15 298.38,418.19 298.9,417.57 C299.42,416.96 300.37,416.41 301.21,416.24 C302.05,416.07 303.17,416.2 303.94,416.55 C304.7,416.9 305.47,417.64 305.8,418.35 C306.14,419.06 305.92,420.39 305.94,420.8" fill="none" stroke="#1a1a1a" stroke-width="0.6" stroke-linejoin="round"/>
<path d="M307.84,410.55 C307.12,410.72 305.09,411.15 303.53,411.56 C301.98,411.97 299.95,412.4 298.51,413 C297.07,413.59 295.95,414.26 294.92,415.15 C293.89,416.03 292.77,417.78 292.34,418.31" fill="none" stroke="#1a1a1a" stroke-width="0.6" stroke-linejoin="round"/>
<path d="M308.56,417.3 C309.04,417.42 310.55,417.61 311.43,418.02 C312.32,418.43 313.75,419.14 313.87,419.74 C313.99,420.34 312.44,421.3 312.15,421.61" fill="none" stroke="#1a1a1a" stroke-width="0.6" stroke-linejoin="round"/>
</g>
<circle cx="303" cy="405.3" r="1.7" fill="#dbe4f4"/>
<circle cx="372.6" cy="413.2" r="27.4" fill="#abbddf"/>
<g clip-path="url(#cpI12)">
<line x1="345.2" y1="413.2" x2="400" y2="413.2" stroke="#dce5f4" stroke-width="1.1"/>
<line x1="372.6" y1="385.8" x2="372.6" y2="440.6" stroke="#dce5f4" stroke-width="1.1"/>
<circle cx="372.6" cy="413.2" r="17.8" fill="none" stroke="#c9d6ee" stroke-width="0.8" stroke-dasharray="2 0.7"/>
<polygon points="364.92,405.96 339.03,411.84 340.07,416.42 365.96,410.55" fill="#f5c19f" stroke="#f39a58" stroke-width="1.1"/>
<path d="M345.44,411.56 C346.63,411.39 350.46,410.87 352.61,410.55 C354.77,410.24 356.56,410 358.36,409.69 C360.15,409.38 362.18,408.98 363.38,408.69 C364.58,408.4 365.18,408.09 365.53,407.97" fill="none" stroke="#1a1a1a" stroke-width="0.6" stroke-linejoin="round"/>
<path d="M355.49,403.66 C355.6,402.95 355.49,400.55 356.2,399.36 C356.92,398.16 358.24,397.32 359.79,396.49 C361.35,395.65 363.74,394.69 365.53,394.33 C367.33,393.97 369.24,393.97 370.56,394.33 C371.88,394.69 372.71,395.41 373.43,396.49 C374.15,397.56 374.27,399.48 374.87,400.79 C375.46,402.11 376.42,403.07 377.02,404.38 C377.62,405.7 378.22,407.25 378.46,408.69 C378.69,410.12 378.69,411.8 378.46,413 C378.22,414.19 377.86,415.27 377.02,415.87 C376.18,416.46 374.87,416.58 373.43,416.58 C372,416.58 369.96,416.23 368.41,415.87 C366.85,415.51 365.42,414.91 364.1,414.43 C362.78,413.95 361.59,413.47 360.51,413 C359.43,412.52 358.6,412.16 357.64,411.56 C356.68,410.96 355.41,410.36 354.77,409.41 C354.12,408.45 353.64,406.77 353.76,405.82 C353.88,404.86 355.2,404.02 355.49,403.66" fill="none" stroke="#1a1a1a" stroke-width="0.6" stroke-linejoin="round"/>
<path d="M354.05,405.1 C354.41,404.74 355.25,403.38 356.2,402.95 C357.16,402.51 358.72,402.4 359.79,402.51 C360.87,402.63 361.95,402.99 362.66,403.66 C363.38,404.33 364.22,405.58 364.1,406.53 C363.98,407.49 362.9,408.74 361.95,409.41 C360.99,410.08 359.43,410.55 358.36,410.55 C357.28,410.55 356.2,409.96 355.49,409.41 C354.77,408.86 354.29,407.61 354.05,407.25" fill="none" stroke="#1a1a1a" stroke-width="0.6" stroke-linejoin="round"/>
</g>
<circle cx="367" cy="407.9" r="1.7" fill="#dbe4f4"/>
<circle cx="310.8" cy="473.4" r="27.4" fill="#abbddf"/>
<g clip-path="url(#cpI21)">
<line x1="283.4" y1="473.4" x2="338.2" y2="473.4" stroke="#dce5f4" stroke-width="1.1"/>
<line x1="310.8" y1="446" x2="310.8" y2="500.8" stroke="#dce5f4" stroke-width="1.1"/>
<circle cx="310.8" cy="473.4" r="17.8" fill="none" stroke="#c9d6ee" stroke-width="0.8" stroke-dasharray="2 0.7"/>
<polygon points="304.04,467.94 343.34,476.81 344.37,472.23 305.08,463.36" fill="#f5c19f" stroke="#f39a58" stroke-width="1.1"/>
<path d="M332.12,473.4 L333.48,481.18 L329.48,487.93 L322.71,491.62 L316.36,495.37 L308.94,495.81 L301.46,494.69 L294.71,490.88 L292.18,483.47 L290.16,476.84 L287.19,469.46 L291.07,462.72 L294.77,455.99 L302.43,454.33 L308.94,450.99 L316.57,450.61 L322.65,455.26 L330.01,458.44 L333.67,465.55 L332.12,473.4" fill="none" stroke="#1a1a1a" stroke-width="0.6" stroke-linejoin="round"/>
<path d="M335.58,478.42 L332.98,485.49 L326.64,489.66 L321.18,493.68 L315.12,497.96 L307.72,497.86 L300.73,495.69 L295.29,490.95 L290.07,486.05 L287.26,479.38 L286.62,472.18 L289.2,465.52 L291.85,459.03 L296.99,454.17 L302.97,450.06 L310.18,448.01 L317.65,449.08 L323.89,453.16 L329.05,458.1 L332.28,464.35 L333.33,471.15 L335.58,478.42" fill="none" stroke="#1a1a1a" stroke-width="0.6" stroke-linejoin="round"/>
<path d="M328.72,482.06 L325.23,488.85 L318.41,492.36 L311.06,494.77 L303.29,493.5 L298.03,487.75 L293.89,482.07 L288.6,475.72 L291.5,468.16 L294.78,461.6 L298.48,454.03 L306.72,452.96 L314.64,451.42 L321.57,455.53 L327.82,460.22 L329.54,467.82 L332.23,475.12 L328.72,482.06" fill="none" stroke="#1a1a1a" stroke-width="0.6" stroke-linejoin="round"/>
<path d="M328.88,475.21 L326.12,482.15 L321.93,488.57 L314.59,490.84 L307.24,490.53 L299.8,488.69 L292.73,483.94 L290.48,475.63 L291.46,467.21 L297.28,461.34 L302.83,455.73 L310.71,455.06 L318.01,456.99 L323.86,461.52 L327.98,467.73 L328.88,475.21" fill="none" stroke="#1a1a1a" stroke-width="0.6" stroke-linejoin="round"/>
<path d="M295.64,459.36 C296.72,458.76 299.59,456.53 302.1,455.77 C304.61,455 308.32,454.4 310.71,454.76 C313.11,455.12 315.14,456.44 316.46,457.92 C317.77,459.4 318.08,461.63 318.61,463.66 C319.14,465.7 319.54,468.21 319.61,470.12 C319.69,472.04 319.04,473.47 319.04,475.15 C319.04,476.82 319.69,478.74 319.61,480.17 C319.54,481.61 319.25,482.57 318.61,483.76 C317.96,484.96 317.05,486.63 315.74,487.35 C314.42,488.07 312.27,488.19 310.71,488.07 C309.16,487.95 307.48,487.59 306.41,486.63 C305.33,485.68 304.49,483.88 304.25,482.33 C304.01,480.77 304.49,478.62 304.97,477.3 C305.45,475.99 306.17,475.15 307.12,474.43 C308.08,473.71 309.4,473.11 310.71,473 C312.03,472.88 313.82,473.23 315.02,473.71 C316.22,474.19 317.41,475.51 317.89,475.87" fill="none" stroke="#1a1a1a" stroke-width="0.6" stroke-linejoin="round"/>
<path d="M319.61,470.12 C320.28,470.24 322.49,470.36 323.63,470.84 C324.78,471.32 325.67,472.16 326.5,473 C327.34,473.83 328.3,475.39 328.66,475.87" fill="none" stroke="#1a1a1a" stroke-width="0.6" stroke-linejoin="round"/>
<path d="M295.64,459.36 C295.28,460.55 293.89,464.14 293.49,466.53 C293.08,468.93 293.08,471.56 293.2,473.71 C293.32,475.87 293.68,477.66 294.2,479.46 C294.73,481.25 295.28,483.04 296.36,484.48 C297.43,485.92 299.95,487.47 300.66,488.07" fill="none" stroke="#1a1a1a" stroke-width="0.6" stroke-linejoin="round"/>
<path d="M317.17,477.3 C317.48,477.42 318.92,477.66 319.04,478.02 C319.16,478.38 317.8,478.86 317.89,479.46 C317.99,480.05 319.57,481.08 319.61,481.61 C319.66,482.14 318.42,482.45 318.18,482.61" fill="none" stroke="#1a1a1a" stroke-width="0.6" stroke-linejoin="round"/>
</g>
<circle cx="303" cy="465.3" r="1.7" fill="#dbe4f4"/>
<circle cx="372.6" cy="473.4" r="27.4" fill="#abbddf"/>
<g clip-path="url(#cpI22)">
<line x1="345.2" y1="473.4" x2="400" y2="473.4" stroke="#dce5f4" stroke-width="1.1"/>
<line x1="372.6" y1="446" x2="372.6" y2="500.8" stroke="#dce5f4" stroke-width="1.1"/>
<circle cx="372.6" cy="473.4" r="17.8" fill="none" stroke="#c9d6ee" stroke-width="0.8" stroke-dasharray="2 0.7"/>
<polygon points="364.92,465.96 339.03,471.84 340.07,476.42 365.96,470.55" fill="#f5c19f" stroke="#f39a58" stroke-width="1.1"/>
<path d="M345.44,474.14 L351.18,473.71 L358.36,473.14 L364.82,472.56 L369.12,474.43 L373.43,476.3" fill="none" stroke="#1a1a1a" stroke-width="0.6" stroke-linejoin="round"/>
<path d="M354.05,459.36 L355.49,457.2 L358.36,455.77 L361.23,453.33 L364.1,451.89 L367.69,451.46 L369.55,452.9 L369.55,455.77 L368.41,458.64 L369.12,461.51 L371.28,462.95 L374.87,463.38 L379.17,462.51 L382.48,461.51 L384.2,459.36 L383.48,456.49 L380.61,454.76 L376.3,453.9 L372,454.33 L369.55,455.77" fill="none" stroke="#1a1a1a" stroke-width="0.6" stroke-linejoin="round"/>
<path d="M354.05,459.36 L356.2,461.08 L358.36,460.79 L360.51,458.64 L364.1,457.2" fill="none" stroke="#1a1a1a" stroke-width="0.6" stroke-linejoin="round"/>
<path d="M374.87,463.38 L379.89,463.38 L384.92,462.51 L389.22,462.95 L392.81,465.1 L395.68,467.25 L397.41,469.41 L396.4,471.56 L394.25,473.71 L392.81,477.3 L391.38,481.61 L389.65,485.2 L387.07,488.07 L382.76,489.22 L378.46,488.93 L375.87,486.63 L374.58,482.61 L374.87,479.17 L376.73,476.58 L379.89,475.15 L382.04,474.43" fill="none" stroke="#1a1a1a" stroke-width="0.6" stroke-linejoin="round"/>
<path d="M376.3,464.38 L380.61,465.1 L384.2,467.25 L386.06,470.84 L386.35,475.15 L384.63,478.74 L381.04,480.6 L377.31,480.89 L374.87,478.31 L373.86,473.71 L374.58,468.69 L376.3,464.38" fill="none" stroke="#1a1a1a" stroke-width="0.6" stroke-linejoin="round"/>
<path d="M365.53,478.31 L367.69,476.58 L372.71,475.87 L377.74,476.87 L381.61,478.31" fill="none" stroke="#1a1a1a" stroke-width="0.6" stroke-linejoin="round"/>
<path d="M365.53,478.31 L365.82,482.61 L366.97,486.92 L369.84,490.65 L374.87,493.24 L381.61,494.1 L387.07,492.66 L390.66,488.5 L392.52,482.61" fill="none" stroke="#1a1a1a" stroke-width="0.6" stroke-linejoin="round"/>
<path d="M393.53,467.25 L395.11,466.25 L396.11,467.97 L394.53,469.12 L393.53,467.25" fill="none" stroke="#1a1a1a" stroke-width="0.6" stroke-linejoin="round"/>
</g>
<circle cx="367" cy="467.9" r="1.7" fill="#dbe4f4"/>
<circle cx="310.7" cy="595.2" r="27.4" fill="#abbddf"/>
<g clip-path="url(#cpL11)">
<line x1="283.3" y1="595.2" x2="338.1" y2="595.2" stroke="#dce5f4" stroke-width="1.1"/>
<line x1="310.7" y1="567.8" x2="310.7" y2="622.6" stroke="#dce5f4" stroke-width="1.1"/>
<circle cx="310.7" cy="595.2" r="17.8" fill="none" stroke="#c9d6ee" stroke-width="0.8" stroke-dasharray="2 0.7"/>
<polygon points="304.11,589.92 343.42,597.78 344.34,593.17 305.03,585.31" fill="#f5c19f" stroke="#f39a58" stroke-width="1.1"/>
<path d="M294.2,590.69 C293.89,590.21 292.58,588.77 292.34,587.82 C292.1,586.86 292.38,585.59 292.77,584.95 C293.15,584.3 294.16,583.82 294.63,583.94 C295.11,584.06 295.59,584.95 295.64,585.66 C295.69,586.38 294.8,587.41 294.92,588.25 C295.04,589.08 295.76,590.16 296.36,590.69 C296.95,591.21 298.15,591.29 298.51,591.41" fill="none" stroke="#1a1a1a" stroke-width="0.6" stroke-linejoin="round"/>
<path d="M303.53,587.1 C302.94,586.98 300.66,586.98 299.95,586.38 C299.23,585.78 298.87,584.35 299.23,583.51 C299.59,582.67 300.78,581.83 302.1,581.36 C303.42,580.88 305.45,580.64 307.12,580.64 C308.8,580.64 310.59,581 312.15,581.36 C313.7,581.72 315.5,582.19 316.46,582.79 C317.41,583.39 318.01,584.23 317.89,584.95 C317.77,585.66 316.69,586.62 315.74,587.1 C314.78,587.58 313.11,587.58 312.15,587.82 C311.19,588.06 310.71,588.18 310,588.53 C309.28,588.89 308.2,589.73 307.84,589.97" fill="none" stroke="#1a1a1a" stroke-width="0.6" stroke-linejoin="round"/>
<path d="M311.89,597.36 C311.72,597.47 311.38,597.91 310.83,598.01 C310.29,598.11 309.47,598.1 308.61,597.97 C307.75,597.85 306.68,597.59 305.67,597.26 C304.67,596.94 303.54,596.48 302.59,596.02 C301.64,595.56 300.69,594.99 299.98,594.49 C299.28,593.98 298.68,593.42 298.36,592.97 C298.04,592.52 297.92,592.08 298.05,591.77 C298.17,591.46 298.56,591.22 299.11,591.12 C299.65,591.02 300.47,591.03 301.33,591.16 C302.19,591.28 303.27,591.54 304.27,591.87 C305.27,592.19 306.4,592.65 307.35,593.11 C308.3,593.57 309.25,594.13 309.96,594.64 C310.66,595.15 311.26,595.71 311.58,596.16 C311.9,596.61 311.84,597.16 311.89,597.36" fill="none" stroke="#1a1a1a" stroke-width="0.6" stroke-linejoin="round"/>
<path d="M309.47,598.14 C309.14,598.09 308.25,598.04 307.5,597.85 C306.75,597.67 305.83,597.35 304.98,597 C304.12,596.65 303.18,596.2 302.39,595.75 C301.6,595.31 300.82,594.8 300.26,594.36 C299.69,593.91 299.23,593.44 299,593.08 C298.77,592.72 298.72,592.39 298.87,592.19 C299.02,591.98 299.4,591.86 299.89,591.85 C300.39,591.84 301.11,591.95 301.86,592.14 C302.61,592.32 303.54,592.64 304.39,592.99 C305.24,593.34 306.19,593.79 306.98,594.24 C307.76,594.68 308.54,595.19 309.11,595.64 C309.67,596.08 310.13,596.55 310.36,596.91 C310.59,597.27 310.64,597.6 310.49,597.8 C310.34,598.01 309.64,598.08 309.47,598.14" fill="none" stroke="#1a1a1a" stroke-width="0.6" stroke-linejoin="round"/>
<path d="M308.04,596.42 C307.61,596.3 306.3,596.01 305.44,595.71 C304.58,595.41 303.62,595 302.9,594.62 C302.18,594.24 301.5,593.79 301.11,593.44 C300.72,593.08 300.5,592.72 300.54,592.48 C300.59,592.24 300.89,592.06 301.36,592 C301.82,591.94 302.57,591.99 303.33,592.13 C304.09,592.27 305.08,592.54 305.94,592.84 C306.79,593.14 307.75,593.55 308.48,593.93 C309.2,594.31 309.87,594.76 310.27,595.12 C310.66,595.48 310.87,595.84 310.83,596.08 C310.79,596.32 310.48,596.5 310.02,596.55 C309.55,596.61 308.37,596.44 308.04,596.42" fill="none" stroke="#1a1a1a" stroke-width="0.6" stroke-linejoin="round"/>
<path d="M297.79,591.41 C297.07,591.65 294.56,592 293.49,592.84 C292.41,593.68 291.57,595 291.33,596.43 C291.09,597.87 291.45,599.9 292.05,601.46 C292.65,603.01 293.72,604.57 294.92,605.76 C296.12,606.96 297.55,607.92 299.23,608.63 C300.9,609.35 303.06,609.88 304.97,610.07 C306.88,610.26 309.16,610.14 310.71,609.78 C312.27,609.42 313.46,608.71 314.3,607.92 C315.14,607.13 315.62,606 315.74,605.04 C315.86,604.09 315.5,602.82 315.02,602.17 C314.54,601.53 312.63,601.48 312.87,601.17 C313.11,600.86 314.9,600.26 316.46,600.31 C318.01,600.35 320.28,601.31 322.2,601.46 C324.11,601.6 326.27,601.53 327.94,601.17 C329.62,600.81 331.05,599.97 332.25,599.3 C333.44,598.63 334.16,597.63 335.12,597.15 C336.08,596.67 337.51,596.55 337.99,596.43" fill="none" stroke="#1a1a1a" stroke-width="0.6" stroke-linejoin="round"/>
<path d="M312.87,599.3 C313.94,599.3 317.29,599.42 319.33,599.3 C321.36,599.18 323.16,598.9 325.07,598.58 C326.98,598.27 329.85,597.63 330.81,597.44" fill="none" stroke="#1a1a1a" stroke-width="0.6" stroke-linejoin="round"/>
</g>
<circle cx="303" cy="587.3" r="1.7" fill="#dbe4f4"/>
<circle cx="372.6" cy="594.7" r="27.4" fill="#abbddf"/>
<g clip-path="url(#cpL12)">
<line x1="345.2" y1="594.7" x2="400" y2="594.7" stroke="#dce5f4" stroke-width="1.1"/>
<line x1="372.6" y1="567.3" x2="372.6" y2="622.1" stroke="#dce5f4" stroke-width="1.1"/>
<circle cx="372.6" cy="594.7" r="17.8" fill="none" stroke="#c9d6ee" stroke-width="0.8" stroke-dasharray="2 0.7"/>
<polygon points="362.71,589.33 370.37,627.84 374.97,626.93 367.32,588.41" fill="#f5c19f" stroke="#f39a58" stroke-width="1.1"/>
<path d="M374.87,621.27 C374.63,620.96 373.79,620.19 373.43,619.4 C373.07,618.61 372.95,617.61 372.71,616.53 C372.47,615.45 372,614.02 372,612.94 C372,611.86 372.23,610.91 372.71,610.07 C373.19,609.23 374.15,608.75 374.87,607.92 C375.58,607.08 376.42,606 377.02,605.04 C377.62,604.09 378.1,603.25 378.46,602.17 C378.81,601.1 379.17,599.78 379.17,598.58 C379.17,597.39 378.81,596.19 378.46,595 C378.1,593.8 377.62,592.6 377.02,591.41 C376.42,590.21 375.7,589.01 374.87,587.82 C374.03,586.62 373.07,585.18 372,584.23 C370.92,583.27 369.6,582.67 368.41,582.07 C367.21,581.48 366.01,580.76 364.82,580.64 C363.62,580.52 362.3,580.88 361.23,581.36 C360.15,581.83 359.19,582.67 358.36,583.51 C357.52,584.35 356.68,585.3 356.2,586.38 C355.72,587.46 355.41,588.77 355.49,589.97 C355.56,591.17 356.16,592.48 356.63,593.56 C357.11,594.64 357.59,595.47 358.36,596.43 C359.12,597.39 360.15,598.58 361.23,599.3 C362.3,600.02 363.74,600.57 364.82,600.74 C365.89,600.91 366.97,600.55 367.69,600.31 C368.41,600.07 368.88,599.47 369.12,599.3" fill="none" stroke="#1a1a1a" stroke-width="0.6" stroke-linejoin="round"/>
<path d="M358.36,592.12 C358.48,592.48 358.48,593.8 359.07,594.28 C359.67,594.76 361.11,595.11 361.95,595 C362.78,594.88 363.45,594.28 364.1,593.56 C364.75,592.84 365.58,591.65 365.82,590.69 C366.06,589.73 365.58,588.3 365.53,587.82" fill="none" stroke="#1a1a1a" stroke-width="0.6" stroke-linejoin="round"/>
<path d="M356.2,588.53 C356.44,588.06 356.92,586.38 357.64,585.66 C358.36,584.95 359.55,584.47 360.51,584.23 C361.47,583.99 362.9,584.23 363.38,584.23" fill="none" stroke="#1a1a1a" stroke-width="0.6" stroke-linejoin="round"/>
</g>
<circle cx="364.7" cy="587.3" r="1.7" fill="#dbe4f4"/>
<circle cx="310.8" cy="654.9" r="27.4" fill="#abbddf"/>
<g clip-path="url(#cpL21)">
<line x1="283.4" y1="654.9" x2="338.2" y2="654.9" stroke="#dce5f4" stroke-width="1.1"/>
<line x1="310.8" y1="627.5" x2="310.8" y2="682.3" stroke="#dce5f4" stroke-width="1.1"/>
<circle cx="310.8" cy="654.9" r="17.8" fill="none" stroke="#c9d6ee" stroke-width="0.8" stroke-dasharray="2 0.7"/>
<polygon points="304.11,649.92 343.42,657.78 344.34,653.17 305.03,645.31" fill="#f5c19f" stroke="#f39a58" stroke-width="1.1"/>
<path d="M300.66,670.07 L300.66,673.66 L302.1,677.25 L304.97,678.97 L308.56,677.97 L311.43,674.38 L314.3,671.5 L317.17,669.35 L320.76,666.48 L323.63,665.04 L326.5,662.89 L329.38,660.02 L331.53,656.43 L332.25,652.12 L332.97,647.1 L332.25,642.79 L329.38,639.2 L323.63,635.9 L316.46,633.89 L309.28,633.46 L302.1,634.9 L294.92,637.77 L289.9,642.79 L287.02,647.1 L285.59,652.12 L286.31,657.15 L288.46,660.74" fill="none" stroke="#1a1a1a" stroke-width="0.6" stroke-linejoin="round"/>
<path d="M293.49,649.97 L294.2,645.66 L297.79,642.07 L303.53,640.64 L309.28,640.64 L312.87,642.79 L315.02,646.38 L315.74,650.69 L315.31,654.28 L314.73,657.87 L312.87,662.89 L311.43,667.2 L312.15,670.07 L315.02,671.5 L317.89,670.07 L320.04,667.2 L319.33,664.33 L316.46,662.89 L312.87,663.18" fill="none" stroke="#1a1a1a" stroke-width="0.6" stroke-linejoin="round"/>
<path d="M293.49,649.97 L292.77,654.28 L294.2,657.87 L297.79,659.3 L303.53,659.3 L307.12,657.87 L308.56,655 L306.41,652.84 L302.1,652.55 L298.51,652.84 L296.36,655 L297.07,657.15" fill="none" stroke="#1a1a1a" stroke-width="0.6" stroke-linejoin="round"/>
<path d="M287.74,660.02 L289.9,658.58 L293.49,657.87 L299.23,659.3 L304.97,661.46 L308.56,664.33 L307.84,667.92 L304.97,669.35 L300.66,669.35 L296.36,667.92 L292.05,665.76 L289.18,663.61 L287.74,660.02" fill="none" stroke="#1a1a1a" stroke-width="0.6" stroke-linejoin="round"/>
<path d="M316.46,662.89 L320.76,661.46 L325.07,659.3 L329.38,656.43 L332.97,654.28 L337.99,653.27" fill="none" stroke="#1a1a1a" stroke-width="0.6" stroke-linejoin="round"/>
<path d="M290.61,659.3 L292.05,661.46 L296.36,662.17 L302.1,662.89 L306.41,664.61" fill="none" stroke="#1a1a1a" stroke-width="0.6" stroke-linejoin="round"/>
</g>
<circle cx="303" cy="647.3" r="1.7" fill="#dbe4f4"/>
<circle cx="372.6" cy="654.9" r="27.4" fill="#abbddf"/>
<g clip-path="url(#cpL22)">
<line x1="345.2" y1="654.9" x2="400" y2="654.9" stroke="#dce5f4" stroke-width="1.1"/>
<line x1="372.6" y1="627.5" x2="372.6" y2="682.3" stroke="#dce5f4" stroke-width="1.1"/>
<circle cx="372.6" cy="654.9" r="17.8" fill="none" stroke="#c9d6ee" stroke-width="0.8" stroke-dasharray="2 0.7"/>
<polygon points="362.71,649.33 370.37,687.84 374.97,686.93 367.32,648.41" fill="#f5c19f" stroke="#f39a58" stroke-width="1.1"/>
<path d="M348.31,657.15 L349.02,651.41 L351.9,645.66 L356.2,640.64 L361.23,637.05 L366.97,634.18 L372.71,632.46 L378.46,632.02 L384.2,633.46 L388.5,636.33 L391.38,640.64 L391.38,644.95 L388.5,647.1 L385.63,647.1" fill="none" stroke="#1a1a1a" stroke-width="0.6" stroke-linejoin="round"/>
<path d="M350.46,652.12 L352.61,647.1 L356.92,642.79 L362.66,639.63 L369.12,637.77 L374.87,637.05 L380.61,637.05 L385.63,638.49 L389.22,641.36 L392.09,644.23" fill="none" stroke="#1a1a1a" stroke-width="0.6" stroke-linejoin="round"/>
<path d="M352.61,654.28 L354.05,648.53 L358.36,643.94 L365.53,641.36 L372.71,640.64 L377.74,641.36" fill="none" stroke="#1a1a1a" stroke-width="0.6" stroke-linejoin="round"/>
<path d="M374.15,644.23 L378.46,639.2 L384.2,639.92 L387.07,644.23 L385.63,649.97 L381.33,652.84 L376.3,651.41 L374.15,647.82 L374.15,644.23" fill="none" stroke="#1a1a1a" stroke-width="0.6" stroke-linejoin="round"/>
<path d="M385.63,648.53 L389.94,646.38 L394.97,647.1 L397.84,650.69 L397.12,655.71 L393.53,657.87 L388.5,656.43 L385.63,652.84 L385.63,648.53" fill="none" stroke="#1a1a1a" stroke-width="0.6" stroke-linejoin="round"/>
<path d="M376.3,645.66 L382.04,643.51 L388.5,644.95 L392.09,648.53 L391.38,653.56 L387.07,655" fill="none" stroke="#1a1a1a" stroke-width="0.6" stroke-linejoin="round"/>
<path d="M379.89,653.56 L378.46,657.15 L376.3,661.46 L374.15,665.76 L372.71,670.07 L372,674.38 L372.71,677.97 L374.15,680.84" fill="none" stroke="#1a1a1a" stroke-width="0.6" stroke-linejoin="round"/>
<path d="M346.87,657.87 L348.31,655 L351.9,654.28 L354.05,656.43 L353.76,660.02 L351.18,661.74 L348.02,661.17 L346.87,657.87" fill="none" stroke="#1a1a1a" stroke-width="0.6" stroke-linejoin="round"/>
<path d="M352.61,657.87 L355.49,655.71 L359.07,656.43 L360.51,660.02 L359.5,663.61 L356.2,665.04 L353.33,663.61 L352.33,660.74 L352.61,657.87" fill="none" stroke="#1a1a1a" stroke-width="0.6" stroke-linejoin="round"/>
<path d="M352.61,662.89 L355.49,661.46 L357.64,663.61 L356.92,666.48 L354.05,667.2 L352.33,665.04 L352.61,662.89" fill="none" stroke="#1a1a1a" stroke-width="0.6" stroke-linejoin="round"/>
<path d="M351.18,661.46 L352.61,667.2 L356.92,671.5 L362.66,675.09 L368.41,677.25 L372.71,677.97" fill="none" stroke="#1a1a1a" stroke-width="0.6" stroke-linejoin="round"/>
<path d="M393.53,657.87 L392.81,662.89 L389.94,667.92 L386.35,672.22 L381.33,675.81 L376.3,677.97" fill="none" stroke="#1a1a1a" stroke-width="0.6" stroke-linejoin="round"/>
<path d="M358.36,655.71 L360.51,659.3 L359.79,664.33 L357.64,667.92 L354.77,669.35" fill="none" stroke="#1a1a1a" stroke-width="0.6" stroke-linejoin="round"/>
<path d="M349.74,659.3 L350.89,656.43 L352.9,657.87 L351.9,660.31 L350.03,660.02" fill="none" stroke="#1a1a1a" stroke-width="0.6" stroke-linejoin="round"/>
</g>
<circle cx="364.7" cy="647.3" r="1.7" fill="#dbe4f4"/>
<text transform="translate(310.7,35.8) " font-size="8" font-weight="bold" text-anchor="middle" fill="#1a1a1a" stroke="#1a1a1a" stroke-width="0.12">Trial 1</text>
<text transform="translate(373.1,35.8) " font-size="8" font-weight="bold" text-anchor="middle" fill="#1a1a1a" stroke="#1a1a1a" stroke-width="0.12">Trial 6</text>
<text transform="translate(310.7,202.9) " font-size="8" font-weight="bold" text-anchor="middle" fill="#1a1a1a" stroke="#1a1a1a" stroke-width="0.12">Trial 1</text>
<text transform="translate(373.1,202.9) " font-size="8" font-weight="bold" text-anchor="middle" fill="#1a1a1a" stroke="#1a1a1a" stroke-width="0.12">Trial 4</text>
<text transform="translate(310.7,381.2) " font-size="8" font-weight="bold" text-anchor="middle" fill="#1a1a1a" stroke="#1a1a1a" stroke-width="0.12">Trial 1</text>
<text transform="translate(373.1,381.2) " font-size="8" font-weight="bold" text-anchor="middle" fill="#1a1a1a" stroke="#1a1a1a" stroke-width="0.12">Trial 4</text>
<text transform="translate(310.7,563.2) " font-size="8" font-weight="bold" text-anchor="middle" fill="#1a1a1a" stroke="#1a1a1a" stroke-width="0.12">Trial 1</text>
<text transform="translate(373.1,563.2) " font-size="8" font-weight="bold" text-anchor="middle" fill="#1a1a1a" stroke="#1a1a1a" stroke-width="0.12">Trial 4</text>
<text transform="translate(277.6,68.5) rotate(-90)" x="0" y="0" font-size="8.4" font-weight="bold" text-anchor="middle" fill="#111" stroke="#111" stroke-width="0.3">B6</text>
<text transform="translate(277.6,127.6) rotate(-90)" x="0" y="0" font-size="8.4" font-weight="bold" text-anchor="middle" fill="#111" stroke="#111" stroke-width="0.3">BTBR</text>
<text transform="translate(277.6,235.5) rotate(-90)" x="0" y="0" font-size="8.4" font-weight="bold" text-anchor="middle" fill="#111" stroke="#111" stroke-width="0.3">B6</text>
<text transform="translate(277.6,294.9) rotate(-90)" x="0" y="0" font-size="8.4" font-weight="bold" text-anchor="middle" fill="#111" stroke="#111" stroke-width="0.3">BTBR</text>
<text transform="translate(277.6,413.2) rotate(-90)" x="0" y="0" font-size="8.4" font-weight="bold" text-anchor="middle" fill="#111" stroke="#111" stroke-width="0.3">B6</text>
<text transform="translate(277.6,473.4) rotate(-90)" x="0" y="0" font-size="8.4" font-weight="bold" text-anchor="middle" fill="#111" stroke="#111" stroke-width="0.3">BTBR</text>
<text transform="translate(277.6,595) rotate(-90)" x="0" y="0" font-size="8.4" font-weight="bold" text-anchor="middle" fill="#111" stroke="#111" stroke-width="0.3">B6</text>
<text transform="translate(277.6,654.9) rotate(-90)" x="0" y="0" font-size="8.4" font-weight="bold" text-anchor="middle" fill="#111" stroke="#111" stroke-width="0.3">BTBR</text>
</svg>
</body></html>
